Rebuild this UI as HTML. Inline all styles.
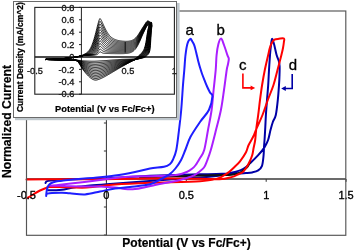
<!DOCTYPE html>
<html><head><meta charset="utf-8"><title>CV</title>
<style>
html,body{margin:0;padding:0;background:#fff;}
body{width:354px;height:250px;overflow:hidden;}
svg{display:block;font-family:"Liberation Sans",Arial,sans-serif;}
</style></head><body>
<svg width="354" height="250" viewBox="0 0 354 250">
<rect width="354" height="250" fill="#fff"/>
<line x1="26.5" y1="179.0" x2="346" y2="179.0" stroke="#3a3a3a" stroke-width="1.4"/>
<line x1="106.4" y1="11" x2="106.4" y2="235.3" stroke="#333" stroke-width="1"/>
<line x1="103.9" y1="235.0" x2="106.4" y2="235.0" stroke="#333" stroke-width="1"/>
<line x1="103.9" y1="207.0" x2="106.4" y2="207.0" stroke="#333" stroke-width="1"/>
<line x1="103.9" y1="179.0" x2="106.4" y2="179.0" stroke="#333" stroke-width="1"/>
<line x1="103.9" y1="151.0" x2="106.4" y2="151.0" stroke="#333" stroke-width="1"/>
<line x1="103.9" y1="123.0" x2="106.4" y2="123.0" stroke="#333" stroke-width="1"/>
<line x1="103.9" y1="95.0" x2="106.4" y2="95.0" stroke="#333" stroke-width="1"/>
<line x1="103.9" y1="67.0" x2="106.4" y2="67.0" stroke="#333" stroke-width="1"/>
<line x1="103.9" y1="39.0" x2="106.4" y2="39.0" stroke="#333" stroke-width="1"/>
<line x1="103.9" y1="11.0" x2="106.4" y2="11.0" stroke="#333" stroke-width="1"/>
<line x1="26.5" y1="179.0" x2="26.5" y2="181.8" stroke="#333" stroke-width="1"/>
<line x1="106.4" y1="179.0" x2="106.4" y2="181.8" stroke="#333" stroke-width="1"/>
<line x1="186.3" y1="179.0" x2="186.3" y2="181.8" stroke="#333" stroke-width="1"/>
<line x1="266.2" y1="179.0" x2="266.2" y2="181.8" stroke="#333" stroke-width="1"/>
<line x1="346.1" y1="179.0" x2="346.1" y2="181.8" stroke="#333" stroke-width="1"/>
<path d="M45.50,183.00 C45.68,182.72 45.75,181.73 46.60,181.30 C47.45,180.87 48.03,180.68 50.60,180.40 C53.17,180.12 57.93,179.80 62.00,179.60 C66.07,179.40 68.67,179.37 75.00,179.20 C81.33,179.03 91.67,178.92 100.00,178.60 C108.33,178.28 116.67,177.77 125.00,177.30 C133.33,176.83 137.50,176.32 150.00,175.80 C162.50,175.28 188.00,174.53 200.00,174.20 C212.00,173.87 216.33,173.92 222.00,173.80 C227.67,173.68 231.00,173.57 234.00,173.50 C237.00,173.43 238.00,173.47 240.00,173.40 C242.00,173.33 243.97,173.27 246.00,173.10 C248.03,172.93 250.17,172.85 252.20,172.40 C254.23,171.95 256.57,171.50 258.20,170.40 C259.83,169.30 261.10,168.33 262.00,165.80 C262.90,163.27 263.27,158.33 263.60,155.20 C263.93,152.07 263.83,149.70 264.00,147.00 C264.17,144.30 264.38,142.33 264.60,139.00 C264.82,135.67 265.08,131.00 265.30,127.00 C265.52,123.00 265.62,119.50 265.90,115.00 C266.18,110.50 266.62,105.00 267.00,100.00 C267.38,95.00 267.87,90.00 268.20,85.00 C268.53,80.00 268.70,75.00 269.00,70.00 C269.30,65.00 269.70,58.83 270.00,55.00 C270.30,51.17 270.47,49.68 270.80,47.00 C271.13,44.32 271.47,39.40 272.00,38.90 C272.53,38.40 273.23,41.32 274.00,44.00 C274.77,46.68 275.80,52.17 276.60,55.00 C277.40,57.83 278.30,59.17 278.80,61.00 C279.30,62.83 279.48,63.67 279.60,66.00 C279.72,68.33 279.60,71.83 279.50,75.00 C279.40,78.17 279.28,80.83 279.00,85.00 C278.72,89.17 278.33,95.00 277.80,100.00 C277.27,105.00 276.60,111.42 275.80,115.00 C275.00,118.58 273.88,119.00 273.00,121.50 C272.12,124.00 271.32,126.92 270.50,130.00 C269.68,133.08 269.13,137.07 268.10,140.00 C267.07,142.93 265.95,145.07 264.30,147.60 C262.65,150.13 260.48,152.67 258.20,155.20 C255.92,157.73 252.87,160.65 250.60,162.80 C248.33,164.95 246.37,166.83 244.60,168.10 C242.83,169.37 241.60,169.75 240.00,170.40 C238.40,171.05 237.00,171.48 235.00,172.00 C233.00,172.52 230.50,172.92 228.00,173.50 C225.50,174.08 224.67,174.83 220.00,175.50 C215.33,176.17 208.33,176.83 200.00,177.50 C191.67,178.17 180.00,178.78 170.00,179.50 C160.00,180.22 150.00,181.05 140.00,181.80 C130.00,182.55 118.33,183.37 110.00,184.00 C101.67,184.63 95.83,185.05 90.00,185.60 C84.17,186.15 79.67,186.60 75.00,187.30 C70.33,188.00 65.33,189.30 62.00,189.80 C58.67,190.30 57.33,190.23 55.00,190.30 C52.67,190.37 49.17,190.22 48.00,190.20" fill="none" stroke="#0000a6" stroke-width="2" stroke-linejoin="round" stroke-linecap="round"/>
<path d="M140.00,177.20 C145.00,177.08 160.00,176.77 170.00,176.50 C180.00,176.23 191.33,175.83 200.00,175.60 C208.67,175.37 216.50,175.30 222.00,175.10 C227.50,174.90 230.00,174.82 233.00,174.40 C236.00,173.98 238.17,173.37 240.00,172.60 C241.83,171.83 242.73,170.80 244.00,169.80 C245.27,168.80 246.60,167.90 247.60,166.60 C248.60,165.30 249.60,162.77 250.00,162.00" fill="none" stroke="#111" stroke-width="2" stroke-linejoin="round" stroke-linecap="round"/>
<path d="M26.50,179.40 C32.08,179.37 47.75,179.22 60.00,179.20 C72.25,179.18 85.00,179.40 100.00,179.30 C115.00,179.20 133.33,178.68 150.00,178.60 C166.67,178.52 189.17,178.70 200.00,178.80 C210.83,178.90 211.33,179.17 215.00,179.20 C218.67,179.23 219.83,179.20 222.00,179.00 C224.17,178.80 226.00,178.43 228.00,178.00 C230.00,177.57 232.17,177.07 234.00,176.40 C235.83,175.73 237.50,174.73 239.00,174.00 C240.50,173.27 241.83,172.98 243.00,172.00 C244.17,171.02 244.98,169.63 246.00,168.10 C247.02,166.57 248.07,164.95 249.10,162.80 C250.13,160.65 251.45,157.67 252.20,155.20 C252.95,152.73 253.10,150.53 253.60,148.00 C254.10,145.47 254.77,143.10 255.20,140.00 C255.63,136.90 255.70,133.57 256.20,129.40 C256.70,125.23 257.57,119.90 258.20,115.00 C258.83,110.10 259.35,105.00 260.00,100.00 C260.65,95.00 261.30,90.00 262.10,85.00 C262.90,80.00 263.78,75.00 264.80,70.00 C265.82,65.00 267.37,58.67 268.20,55.00 C269.03,51.33 269.20,50.00 269.80,48.00 C270.40,46.00 271.02,44.38 271.80,43.00 C272.58,41.62 273.30,40.40 274.50,39.70 C275.70,39.00 277.42,39.00 279.00,38.80 C280.58,38.60 283.18,37.97 284.00,38.50 C284.82,39.03 284.07,40.42 283.90,42.00 C283.73,43.58 283.42,45.83 283.00,48.00 C282.58,50.17 282.32,51.33 281.40,55.00 C280.48,58.67 278.82,65.00 277.50,70.00 C276.18,75.00 275.12,80.00 273.50,85.00 C271.88,90.00 269.63,95.00 267.80,100.00 C265.97,105.00 264.43,110.10 262.50,115.00 C260.57,119.90 257.70,125.90 256.20,129.40 C254.70,132.90 254.30,134.23 253.50,136.00 C252.70,137.77 252.25,138.42 251.40,140.00 C250.55,141.58 249.30,143.47 248.40,145.50 C247.50,147.53 247.40,149.57 246.00,152.20 C244.60,154.83 242.00,158.75 240.00,161.30 C238.00,163.85 235.83,165.72 234.00,167.50 C232.17,169.28 230.60,170.72 229.00,172.00 C227.40,173.28 226.40,174.10 224.40,175.20 C222.40,176.30 221.07,177.58 217.00,178.60 C212.93,179.62 211.17,180.60 200.00,181.30 C188.83,182.00 164.17,182.25 150.00,182.80 C135.83,183.35 125.57,183.80 115.00,184.60 C104.43,185.40 95.77,187.20 86.60,187.60 C77.43,188.00 66.30,187.10 60.00,187.00 C53.70,186.90 51.25,186.78 48.80,187.00 C46.35,187.22 46.77,187.72 45.30,188.30 C43.83,188.88 42.05,189.47 40.00,190.50 C37.95,191.53 35.25,193.17 33.00,194.50 C30.75,195.83 27.58,197.83 26.50,198.50" fill="none" stroke="#ff0000" stroke-width="2" stroke-linejoin="round" stroke-linecap="round"/>
<path d="M50.40,185.80 C52.00,185.63 55.07,185.35 60.00,184.80 C64.93,184.25 73.33,183.30 80.00,182.50 C86.67,181.70 92.50,180.92 100.00,180.00 C107.50,179.08 116.67,177.63 125.00,177.00 C133.33,176.37 143.33,176.40 150.00,176.20 C156.67,176.00 160.33,176.03 165.00,175.80 C169.67,175.57 174.38,175.43 178.00,174.80 C181.62,174.17 184.37,173.00 186.70,172.00 C189.03,171.00 190.50,169.97 192.00,168.80 C193.50,167.63 194.37,166.80 195.70,165.00 C197.03,163.20 198.58,160.50 200.00,158.00 C201.42,155.50 202.87,154.67 204.20,150.00 C205.53,145.33 206.77,136.67 208.00,130.00 C209.23,123.33 210.67,116.67 211.60,110.00 C212.53,103.33 212.92,96.67 213.60,90.00 C214.28,83.33 215.20,75.83 215.70,70.00 C216.20,64.17 216.15,59.33 216.60,55.00 C217.05,50.67 217.65,46.73 218.40,44.00 C219.15,41.27 220.17,38.43 221.10,38.60 C222.03,38.77 222.93,42.20 224.00,45.00 C225.07,47.80 226.70,53.07 227.50,55.40 C228.30,57.73 228.75,57.40 228.80,59.00 C228.85,60.60 228.15,63.17 227.80,65.00 C227.45,66.83 227.33,65.83 226.70,70.00 C226.07,74.17 224.97,83.33 224.00,90.00 C223.03,96.67 222.23,103.33 220.90,110.00 C219.57,116.67 217.68,123.33 216.00,130.00 C214.32,136.67 212.30,144.83 210.80,150.00 C209.30,155.17 208.13,158.08 207.00,161.00 C205.87,163.92 205.33,165.67 204.00,167.50 C202.67,169.33 200.67,170.68 199.00,172.00 C197.33,173.32 196.17,174.35 194.00,175.40 C191.83,176.45 189.00,177.37 186.00,178.30 C183.00,179.23 179.50,180.22 176.00,181.00 C172.50,181.78 168.50,182.33 165.00,183.00 C161.50,183.67 158.33,184.30 155.00,185.00 C151.67,185.70 148.33,186.53 145.00,187.20 C141.67,187.87 138.33,188.70 135.00,189.00 C131.67,189.30 128.33,189.23 125.00,189.00 C121.67,188.77 119.17,188.00 115.00,187.60 C110.83,187.20 105.00,186.78 100.00,186.60 C95.00,186.42 90.00,186.57 85.00,186.50 C80.00,186.43 74.17,186.32 70.00,186.20 C65.83,186.08 63.27,185.87 60.00,185.80 C56.73,185.73 52.00,185.80 50.40,185.80" fill="none" stroke="#aa1eff" stroke-width="2" stroke-linejoin="round" stroke-linecap="round"/>
<path d="M46.20,196.00 C46.23,195.53 46.27,194.33 46.40,193.20 C46.53,192.07 46.67,190.45 47.00,189.20 C47.33,187.95 47.67,186.73 48.40,185.70 C49.13,184.67 50.13,183.70 51.40,183.00 C52.67,182.30 54.23,181.87 56.00,181.50 C57.77,181.13 58.83,181.18 62.00,180.80 C65.17,180.42 69.50,179.72 75.00,179.20 C80.50,178.68 88.33,178.30 95.00,177.70 C101.67,177.10 108.33,176.55 115.00,175.60 C121.67,174.65 129.17,173.18 135.00,172.00 C140.83,170.82 145.17,169.37 150.00,168.50 C154.83,167.63 160.70,167.52 164.00,166.80 C167.30,166.08 168.33,165.33 169.80,164.20 C171.27,163.07 171.72,162.37 172.80,160.00 C173.88,157.63 175.27,155.00 176.30,150.00 C177.33,145.00 178.18,136.67 179.00,130.00 C179.82,123.33 180.53,117.50 181.20,110.00 C181.87,102.50 182.48,91.67 183.00,85.00 C183.52,78.33 183.88,75.00 184.30,70.00 C184.72,65.00 184.97,59.42 185.50,55.00 C186.03,50.58 186.68,46.20 187.50,43.50 C188.32,40.80 189.60,39.13 190.40,38.80 C191.20,38.47 191.65,40.40 192.30,41.50 C192.95,42.60 193.65,43.57 194.30,45.40 C194.95,47.23 195.55,49.90 196.20,52.50 C196.85,55.10 197.55,58.45 198.20,61.00 C198.85,63.55 199.45,65.63 200.10,67.80 C200.75,69.97 201.33,71.85 202.10,74.00 C202.87,76.15 203.83,78.53 204.70,80.70 C205.57,82.87 206.42,85.03 207.30,87.00 C208.18,88.97 209.15,90.92 210.00,92.50 C210.85,94.08 212.58,93.58 212.40,96.50 C212.22,99.42 210.97,105.75 208.90,110.00 C206.83,114.25 203.08,117.50 200.00,122.00 C196.92,126.50 192.85,132.33 190.40,137.00 C187.95,141.67 186.85,146.17 185.30,150.00 C183.75,153.83 182.75,156.92 181.10,160.00 C179.45,163.08 177.28,166.15 175.40,168.50 C173.52,170.85 172.15,172.35 169.80,174.10 C167.45,175.85 164.60,177.30 161.30,179.00 C158.00,180.70 155.22,182.97 150.00,184.30 C144.78,185.63 135.83,186.30 130.00,187.00 C124.17,187.70 120.00,187.75 115.00,188.50 C110.00,189.25 105.00,190.52 100.00,191.50 C95.00,192.48 90.00,194.10 85.00,194.40 C80.00,194.70 73.83,193.58 70.00,193.30 C66.17,193.02 65.00,192.75 62.00,192.70 C59.00,192.65 54.42,192.85 52.00,193.00 C49.58,193.15 48.43,193.35 47.50,193.60 C46.57,193.85 46.58,194.35 46.40,194.50" fill="none" stroke="#1e1eff" stroke-width="2" stroke-linejoin="round" stroke-linecap="round"/>
<text x="26.5" y="198.6" font-size="11" text-anchor="middle" fill="#000" stroke="#000" stroke-width="0.35">-0.5</text>
<text x="106.4" y="198.6" font-size="11" text-anchor="middle" fill="#000" stroke="#000" stroke-width="0.35">0</text>
<text x="186.3" y="198.6" font-size="11" text-anchor="middle" fill="#000" stroke="#000" stroke-width="0.35">0.5</text>
<text x="266.2" y="198.6" font-size="11" text-anchor="middle" fill="#000" stroke="#000" stroke-width="0.35">1</text>
<text x="346.1" y="198.6" font-size="11" text-anchor="middle" fill="#000" stroke="#000" stroke-width="0.35">1.5</text>
<rect x="26.5" y="11" width="319.3" height="224.3" fill="none" stroke="#555" stroke-width="1.15"/>
<path d="M242.9,73.5 V87.9 H251.5" fill="none" stroke="#ff0000" stroke-width="1.6"/>
<path d="M250.6,85.6 L255.2,87.9 L250.6,90.2 Z" fill="#ff0000"/>
<path d="M292.2,74 V88.5 H285" fill="none" stroke="#0000a6" stroke-width="1.6"/>
<path d="M285.8,86 L281.2,88.5 L285.8,91 Z" fill="#0000a6"/>
<text x="189.6" y="35" font-size="15" text-anchor="middle" fill="#000" stroke="#000" stroke-width="0.3">a</text>
<text x="220.6" y="35" font-size="15" text-anchor="middle" fill="#000" stroke="#000" stroke-width="0.3">b</text>
<text x="242.7" y="69.6" font-size="15" text-anchor="middle" fill="#000" stroke="#000" stroke-width="0.3">c</text>
<text x="292.8" y="70.3" font-size="15" text-anchor="middle" fill="#000" stroke="#000" stroke-width="0.3">d</text>
<text x="186.5" y="246.9" font-size="12" font-weight="bold" text-anchor="middle" fill="#000" stroke="#000" stroke-width="0.2">Potential (V vs Fc/Fc+)</text>
<text transform="translate(10.6,121.5) rotate(-90)" x="0" y="0" font-size="12.2" font-weight="bold" text-anchor="middle" fill="#000" stroke="#000" stroke-width="0.2">Normalized Current</text>
<rect x="15" y="3" width="164.6" height="117.2" fill="#bfc7cc"/>
<rect x="13.5" y="1.5" width="163" height="116" fill="#fff" stroke="#6a6a6a" stroke-width="1"/>
<rect x="34.8" y="7.4" width="139.6" height="86.8" fill="#fff"/>
<clipPath id="ic"><rect x="34.8" y="7.4" width="139.6" height="86.8"/></clipPath>
<line x1="34.8" y1="57.0" x2="174.4" y2="57.0" stroke="#111" stroke-width="1.3"/>
<line x1="81.4" y1="7.4" x2="81.4" y2="94.2" stroke="#222" stroke-width="1"/>
<line x1="79" y1="94.2" x2="81.4" y2="94.2" stroke="#222" stroke-width="1"/>
<line x1="79" y1="81.8" x2="81.4" y2="81.8" stroke="#222" stroke-width="1"/>
<line x1="79" y1="69.4" x2="81.4" y2="69.4" stroke="#222" stroke-width="1"/>
<line x1="79" y1="57.0" x2="81.4" y2="57.0" stroke="#222" stroke-width="1"/>
<line x1="79" y1="44.6" x2="81.4" y2="44.6" stroke="#222" stroke-width="1"/>
<line x1="79" y1="32.2" x2="81.4" y2="32.2" stroke="#222" stroke-width="1"/>
<line x1="79" y1="19.8" x2="81.4" y2="19.8" stroke="#222" stroke-width="1"/>
<line x1="79" y1="7.4" x2="81.4" y2="7.4" stroke="#222" stroke-width="1"/>
<g clip-path="url(#ic)" fill="none" stroke="#000">
<g stroke-width="0.85">
<path d="M45.80,59.30 L46.30,59.30 L46.80,59.30 L47.30,59.30 L47.80,59.29 L48.30,59.29 L48.80,59.29 L49.30,59.28 L49.80,59.27 L50.30,59.26 L50.80,59.26 L51.30,59.25 L51.80,59.23 L52.30,59.22 L52.80,59.21 L53.30,59.19 L53.80,59.18 L54.30,59.16 L54.80,59.14 L55.30,59.12 L55.80,59.10 L56.30,59.07 L56.80,59.05 L57.30,59.02 L57.80,59.00 L58.30,58.97 L58.80,58.94 L59.30,58.91 L59.80,58.87 L60.30,58.84 L60.80,58.80 L61.30,58.77 L61.80,58.73 L62.30,58.69 L62.80,58.65 L63.30,58.60 L63.80,58.56 L64.30,58.51 L64.80,58.47 L65.30,58.42 L65.80,58.37 L66.30,58.32 L66.80,58.26 L67.30,58.21 L67.80,58.15 L68.30,58.09 L68.80,58.03 L69.30,57.97 L69.80,57.91 L70.30,57.84 L70.80,57.78 L71.30,57.71 L71.80,57.64 L72.30,57.57 L72.80,57.49 L73.30,57.42 L73.80,57.34 L74.30,57.27 L74.80,57.19 L75.30,57.11 L75.80,57.02 L76.30,56.94 L76.80,56.85 L77.30,56.77 L77.80,56.68 L78.30,56.59 L78.80,56.49 L79.30,56.40 L79.80,56.30 L80.30,56.20 L80.80,56.10 L81.30,56.00 L81.80,55.90 L82.30,55.80 L82.80,55.69 L83.30,55.58 L83.80,55.47 L84.30,55.36 L84.80,55.25 L85.30,55.20 L85.80,55.19 L86.30,55.19 L86.80,55.18 L87.30,55.18 L87.80,55.17 L88.30,55.17 L88.80,55.16 L89.30,55.16 L89.80,55.15 L90.30,55.15 L90.80,55.14 L91.30,55.14 L91.80,55.13 L92.30,55.12 L92.80,55.12 L93.30,55.11 L93.80,55.10 L94.30,55.08 L94.80,55.05 L95.30,55.00 L95.80,54.92 L96.30,54.80 L96.80,54.62 L97.30,54.36 L97.80,53.99 L98.30,53.52 L98.80,52.96 L99.30,52.36 L99.80,51.85 L100.30,51.84 L100.80,52.10 L101.30,52.39 L101.80,52.66 L102.30,52.88 L102.80,53.05 L103.30,53.18 L103.80,53.27 L104.30,53.34 L104.80,53.38 L105.30,53.42 L105.80,53.45 L106.30,53.47 L106.80,53.49 L107.30,53.50 L107.80,53.52 L108.30,53.53 L108.80,53.54 L109.30,53.55 L109.80,53.57 L110.30,53.58 L110.80,53.59 L111.30,53.60 L111.80,53.61 L112.30,53.62 L112.80,53.62 L113.30,53.63 L113.80,53.64 L114.30,53.65 L114.80,53.65 L115.30,53.66 L115.80,53.67 L116.30,53.67 L116.80,53.68 L117.30,53.68 L117.80,53.68 L118.30,53.68 L118.80,53.69 L119.30,53.69 L119.80,53.68 L120.30,53.68 L120.80,53.68 L121.30,53.67 L121.80,53.67 L122.30,53.66 L122.80,53.64 L123.30,53.63 L123.80,53.61 L124.30,53.59 L124.80,53.56 L125.30,53.53 L125.80,53.49 L126.30,53.44 L126.80,53.39 L127.30,53.33 L127.80,53.25 L128.30,53.17 L128.80,53.07 L129.30,52.95 L129.80,52.82 L130.30,52.66 L130.80,52.49 L131.30,52.28 L131.80,52.04 L132.30,51.77 L132.80,51.46 L133.30,51.11 L133.80,50.71 L134.30,50.26 L134.80,49.76 L135.30,49.19 L135.80,48.56 L136.30,47.87 L136.80,47.10 L137.30,46.27 L137.80,45.37 L138.30,44.41 L138.80,43.39 L139.30,42.32 L139.80,41.21 L140.30,40.06 L140.80,38.90 L141.30,37.73 L141.80,36.57 L142.30,35.43 L142.80,34.31 L143.30,33.22 L143.80,32.15 L144.30,31.10 L144.80,30.05 L145.30,29.01 L145.80,28.00 L146.30,27.08 L146.80,26.30 L147.30,25.72 L147.80,25.38 L148.30,25.27 L148.80,25.32 L149.30,25.47 L149.80,25.65 L150.30,25.78 L150.80,25.85 L151.30,25.86 L151.80,25.81 L151.90,25.80"/>
<path d="M45.80,59.30 L46.30,59.30 L46.80,59.30 L47.30,59.30 L47.80,59.29 L48.30,59.29 L48.80,59.29 L49.30,59.28 L49.80,59.27 L50.30,59.26 L50.80,59.26 L51.30,59.25 L51.80,59.23 L52.30,59.22 L52.80,59.21 L53.30,59.19 L53.80,59.18 L54.30,59.16 L54.80,59.14 L55.30,59.12 L55.80,59.10 L56.30,59.07 L56.80,59.05 L57.30,59.02 L57.80,59.00 L58.30,58.97 L58.80,58.94 L59.30,58.91 L59.80,58.87 L60.30,58.84 L60.80,58.80 L61.30,58.77 L61.80,58.73 L62.30,58.69 L62.80,58.65 L63.30,58.60 L63.80,58.56 L64.30,58.51 L64.80,58.47 L65.30,58.42 L65.80,58.37 L66.30,58.32 L66.80,58.26 L67.30,58.21 L67.80,58.15 L68.30,58.09 L68.80,58.03 L69.30,57.97 L69.80,57.91 L70.30,57.84 L70.80,57.78 L71.30,57.71 L71.80,57.64 L72.30,57.57 L72.80,57.49 L73.30,57.42 L73.80,57.34 L74.30,57.27 L74.80,57.19 L75.30,57.11 L75.80,57.02 L76.30,56.94 L76.80,56.85 L77.30,56.77 L77.80,56.68 L78.30,56.59 L78.80,56.49 L79.30,56.40 L79.80,56.30 L80.30,56.20 L80.80,56.10 L81.30,56.00 L81.80,55.90 L82.30,55.80 L82.80,55.69 L83.30,55.58 L83.80,55.47 L84.30,55.36 L84.80,55.25 L85.30,55.20 L85.80,55.19 L86.30,55.19 L86.80,55.18 L87.30,55.18 L87.80,55.17 L88.30,55.17 L88.80,55.16 L89.30,55.15 L89.80,55.15 L90.30,55.14 L90.80,55.13 L91.30,55.11 L91.80,55.09 L92.30,55.07 L92.80,55.03 L93.30,54.98 L93.80,54.90 L94.30,54.79 L94.80,54.64 L95.30,54.43 L95.80,54.15 L96.30,53.79 L96.80,53.33 L97.30,52.76 L97.80,52.08 L98.30,51.31 L98.80,50.49 L99.30,49.71 L99.80,49.09 L100.30,49.09 L100.80,49.42 L101.30,49.82 L101.80,50.22 L102.30,50.60 L102.80,50.93 L103.30,51.21 L103.80,51.45 L104.30,51.64 L104.80,51.79 L105.30,51.91 L105.80,52.01 L106.30,52.09 L106.80,52.15 L107.30,52.20 L107.80,52.24 L108.30,52.28 L108.80,52.31 L109.30,52.33 L109.80,52.36 L110.30,52.38 L110.80,52.40 L111.30,52.42 L111.80,52.44 L112.30,52.45 L112.80,52.47 L113.30,52.49 L113.80,52.50 L114.30,52.52 L114.80,52.53 L115.30,52.54 L115.80,52.56 L116.30,52.57 L116.80,52.58 L117.30,52.59 L117.80,52.60 L118.30,52.60 L118.80,52.61 L119.30,52.62 L119.80,52.62 L120.30,52.62 L120.80,52.62 L121.30,52.62 L121.80,52.62 L122.30,52.61 L122.80,52.61 L123.30,52.59 L123.80,52.58 L124.30,52.56 L124.80,52.54 L125.30,52.51 L125.80,52.47 L126.30,52.43 L126.80,52.38 L127.30,52.32 L127.80,52.25 L128.30,52.17 L128.80,52.07 L129.30,51.96 L129.80,51.83 L130.30,51.68 L130.80,51.50 L131.30,51.30 L131.80,51.07 L132.30,50.80 L132.80,50.50 L133.30,50.15 L133.80,49.76 L134.30,49.32 L134.80,48.82 L135.30,48.26 L135.80,47.64 L136.30,46.96 L136.80,46.21 L137.30,45.39 L137.80,44.51 L138.30,43.57 L138.80,42.57 L139.30,41.52 L139.80,40.44 L140.30,39.32 L140.80,38.19 L141.30,37.05 L141.80,35.92 L142.30,34.80 L142.80,33.71 L143.30,32.65 L143.80,31.62 L144.30,30.59 L144.80,29.57 L145.30,28.55 L145.80,27.56 L146.30,26.65 L146.80,25.89 L147.30,25.33 L147.80,25.01 L148.30,24.91 L148.80,24.98 L149.30,25.14 L149.80,25.33 L150.30,25.48 L150.80,25.56 L151.30,25.57 L151.80,25.53 L151.90,25.52"/>
<path d="M45.80,59.30 L46.30,59.30 L46.80,59.30 L47.30,59.30 L47.80,59.29 L48.30,59.29 L48.80,59.29 L49.30,59.28 L49.80,59.27 L50.30,59.26 L50.80,59.26 L51.30,59.25 L51.80,59.23 L52.30,59.22 L52.80,59.21 L53.30,59.19 L53.80,59.18 L54.30,59.16 L54.80,59.14 L55.30,59.12 L55.80,59.10 L56.30,59.07 L56.80,59.05 L57.30,59.02 L57.80,59.00 L58.30,58.97 L58.80,58.94 L59.30,58.91 L59.80,58.87 L60.30,58.84 L60.80,58.80 L61.30,58.77 L61.80,58.73 L62.30,58.69 L62.80,58.65 L63.30,58.60 L63.80,58.56 L64.30,58.51 L64.80,58.47 L65.30,58.42 L65.80,58.37 L66.30,58.32 L66.80,58.26 L67.30,58.21 L67.80,58.15 L68.30,58.09 L68.80,58.03 L69.30,57.97 L69.80,57.91 L70.30,57.84 L70.80,57.78 L71.30,57.71 L71.80,57.64 L72.30,57.57 L72.80,57.49 L73.30,57.42 L73.80,57.34 L74.30,57.27 L74.80,57.19 L75.30,57.11 L75.80,57.02 L76.30,56.94 L76.80,56.85 L77.30,56.77 L77.80,56.68 L78.30,56.59 L78.80,56.49 L79.30,56.40 L79.80,56.30 L80.30,56.20 L80.80,56.10 L81.30,56.00 L81.80,55.90 L82.30,55.80 L82.80,55.69 L83.30,55.58 L83.80,55.47 L84.30,55.36 L84.80,55.25 L85.30,55.20 L85.80,55.19 L86.30,55.18 L86.80,55.18 L87.30,55.17 L87.80,55.16 L88.30,55.15 L88.80,55.14 L89.30,55.13 L89.80,55.11 L90.30,55.08 L90.80,55.05 L91.30,55.00 L91.80,54.94 L92.30,54.86 L92.80,54.75 L93.30,54.60 L93.80,54.40 L94.30,54.15 L94.80,53.83 L95.30,53.43 L95.80,52.93 L96.30,52.32 L96.80,51.61 L97.30,50.79 L97.80,49.88 L98.30,48.91 L98.80,47.92 L99.30,47.02 L99.80,46.33 L100.30,46.34 L100.80,46.72 L101.30,47.20 L101.80,47.69 L102.30,48.18 L102.80,48.64 L103.30,49.05 L103.80,49.41 L104.30,49.73 L104.80,49.99 L105.30,50.22 L105.80,50.41 L106.30,50.57 L106.80,50.69 L107.30,50.80 L107.80,50.89 L108.30,50.96 L108.80,51.02 L109.30,51.08 L109.80,51.12 L110.30,51.16 L110.80,51.20 L111.30,51.23 L111.80,51.26 L112.30,51.29 L112.80,51.32 L113.30,51.34 L113.80,51.36 L114.30,51.39 L114.80,51.41 L115.30,51.43 L115.80,51.45 L116.30,51.46 L116.80,51.48 L117.30,51.50 L117.80,51.51 L118.30,51.53 L118.80,51.54 L119.30,51.55 L119.80,51.56 L120.30,51.56 L120.80,51.57 L121.30,51.57 L121.80,51.57 L122.30,51.57 L122.80,51.57 L123.30,51.56 L123.80,51.55 L124.30,51.54 L124.80,51.52 L125.30,51.49 L125.80,51.46 L126.30,51.42 L126.80,51.37 L127.30,51.32 L127.80,51.25 L128.30,51.17 L128.80,51.08 L129.30,50.97 L129.80,50.84 L130.30,50.70 L130.80,50.52 L131.30,50.33 L131.80,50.10 L132.30,49.84 L132.80,49.54 L133.30,49.20 L133.80,48.81 L134.30,48.38 L134.80,47.89 L135.30,47.34 L135.80,46.73 L136.30,46.06 L136.80,45.32 L137.30,44.52 L137.80,43.66 L138.30,42.73 L138.80,41.76 L139.30,40.73 L139.80,39.67 L140.30,38.58 L140.80,37.47 L141.30,36.36 L141.80,35.26 L142.30,34.18 L142.80,33.12 L143.30,32.09 L143.80,31.08 L144.30,30.08 L144.80,29.08 L145.30,28.09 L145.80,27.12 L146.30,26.23 L146.80,25.48 L147.30,24.94 L147.80,24.64 L148.30,24.55 L148.80,24.64 L149.30,24.82 L149.80,25.02 L150.30,25.18 L150.80,25.26 L151.30,25.28 L151.80,25.25 L151.90,25.24"/>
<path d="M45.80,59.30 L46.30,59.30 L46.80,59.30 L47.30,59.30 L47.80,59.29 L48.30,59.29 L48.80,59.29 L49.30,59.28 L49.80,59.27 L50.30,59.26 L50.80,59.26 L51.30,59.25 L51.80,59.23 L52.30,59.22 L52.80,59.21 L53.30,59.19 L53.80,59.18 L54.30,59.16 L54.80,59.14 L55.30,59.12 L55.80,59.10 L56.30,59.07 L56.80,59.05 L57.30,59.02 L57.80,59.00 L58.30,58.97 L58.80,58.94 L59.30,58.91 L59.80,58.87 L60.30,58.84 L60.80,58.80 L61.30,58.77 L61.80,58.73 L62.30,58.69 L62.80,58.65 L63.30,58.60 L63.80,58.56 L64.30,58.51 L64.80,58.47 L65.30,58.42 L65.80,58.37 L66.30,58.32 L66.80,58.26 L67.30,58.21 L67.80,58.15 L68.30,58.09 L68.80,58.03 L69.30,57.97 L69.80,57.91 L70.30,57.84 L70.80,57.78 L71.30,57.71 L71.80,57.64 L72.30,57.57 L72.80,57.49 L73.30,57.42 L73.80,57.34 L74.30,57.27 L74.80,57.19 L75.30,57.11 L75.80,57.02 L76.30,56.94 L76.80,56.85 L77.30,56.77 L77.80,56.68 L78.30,56.59 L78.80,56.49 L79.30,56.40 L79.80,56.30 L80.30,56.20 L80.80,56.10 L81.30,56.00 L81.80,55.90 L82.30,55.80 L82.80,55.69 L83.30,55.58 L83.80,55.47 L84.30,55.36 L84.80,55.24 L85.30,55.19 L85.80,55.18 L86.30,55.17 L86.80,55.16 L87.30,55.15 L87.80,55.13 L88.30,55.11 L88.80,55.08 L89.30,55.05 L89.80,55.00 L90.30,54.94 L90.80,54.86 L91.30,54.76 L91.80,54.62 L92.30,54.45 L92.80,54.24 L93.30,53.96 L93.80,53.63 L94.30,53.21 L94.80,52.71 L95.30,52.11 L95.80,51.40 L96.30,50.59 L96.80,49.66 L97.30,48.64 L97.80,47.55 L98.30,46.42 L98.80,45.31 L99.30,44.30 L99.80,43.56 L100.30,43.58 L100.80,44.01 L101.30,44.55 L101.80,45.12 L102.30,45.70 L102.80,46.25 L103.30,46.77 L103.80,47.25 L104.30,47.67 L104.80,48.05 L105.30,48.38 L105.80,48.66 L106.30,48.91 L106.80,49.12 L107.30,49.29 L107.80,49.44 L108.30,49.57 L108.80,49.67 L109.30,49.76 L109.80,49.84 L110.30,49.91 L110.80,49.97 L111.30,50.02 L111.80,50.07 L112.30,50.11 L112.80,50.15 L113.30,50.19 L113.80,50.22 L114.30,50.25 L114.80,50.28 L115.30,50.31 L115.80,50.34 L116.30,50.36 L116.80,50.38 L117.30,50.41 L117.80,50.43 L118.30,50.45 L118.80,50.46 L119.30,50.48 L119.80,50.49 L120.30,50.50 L120.80,50.52 L121.30,50.52 L121.80,50.53 L122.30,50.53 L122.80,50.53 L123.30,50.53 L123.80,50.52 L124.30,50.51 L124.80,50.49 L125.30,50.47 L125.80,50.44 L126.30,50.41 L126.80,50.37 L127.30,50.31 L127.80,50.25 L128.30,50.17 L128.80,50.08 L129.30,49.98 L129.80,49.86 L130.30,49.71 L130.80,49.54 L131.30,49.35 L131.80,49.13 L132.30,48.87 L132.80,48.58 L133.30,48.24 L133.80,47.86 L134.30,47.43 L134.80,46.95 L135.30,46.41 L135.80,45.82 L136.30,45.16 L136.80,44.44 L137.30,43.65 L137.80,42.80 L138.30,41.90 L138.80,40.95 L139.30,39.94 L139.80,38.91 L140.30,37.84 L140.80,36.77 L141.30,35.69 L141.80,34.62 L142.30,33.56 L142.80,32.54 L143.30,31.53 L143.80,30.55 L144.30,29.58 L144.80,28.60 L145.30,27.63 L145.80,26.68 L146.30,25.80 L146.80,25.08 L147.30,24.55 L147.80,24.26 L148.30,24.19 L148.80,24.29 L149.30,24.49 L149.80,24.70 L150.30,24.87 L150.80,24.97 L151.30,25.00 L151.80,24.97 L151.90,24.96"/>
<path d="M45.80,59.30 L46.30,59.30 L46.80,59.30 L47.30,59.30 L47.80,59.29 L48.30,59.29 L48.80,59.29 L49.30,59.28 L49.80,59.27 L50.30,59.26 L50.80,59.26 L51.30,59.25 L51.80,59.23 L52.30,59.22 L52.80,59.21 L53.30,59.19 L53.80,59.18 L54.30,59.16 L54.80,59.14 L55.30,59.12 L55.80,59.10 L56.30,59.07 L56.80,59.05 L57.30,59.02 L57.80,59.00 L58.30,58.97 L58.80,58.94 L59.30,58.91 L59.80,58.87 L60.30,58.84 L60.80,58.80 L61.30,58.77 L61.80,58.73 L62.30,58.69 L62.80,58.65 L63.30,58.60 L63.80,58.56 L64.30,58.51 L64.80,58.47 L65.30,58.42 L65.80,58.37 L66.30,58.32 L66.80,58.26 L67.30,58.21 L67.80,58.15 L68.30,58.09 L68.80,58.03 L69.30,57.97 L69.80,57.91 L70.30,57.84 L70.80,57.78 L71.30,57.71 L71.80,57.64 L72.30,57.57 L72.80,57.49 L73.30,57.42 L73.80,57.34 L74.30,57.27 L74.80,57.19 L75.30,57.11 L75.80,57.02 L76.30,56.94 L76.80,56.85 L77.30,56.77 L77.80,56.68 L78.30,56.59 L78.80,56.49 L79.30,56.40 L79.80,56.30 L80.30,56.20 L80.80,56.10 L81.30,56.00 L81.80,55.90 L82.30,55.79 L82.80,55.68 L83.30,55.57 L83.80,55.46 L84.30,55.35 L84.80,55.23 L85.30,55.17 L85.80,55.16 L86.30,55.14 L86.80,55.12 L87.30,55.09 L87.80,55.06 L88.30,55.01 L88.80,54.96 L89.30,54.89 L89.80,54.80 L90.30,54.68 L90.80,54.54 L91.30,54.35 L91.80,54.13 L92.30,53.85 L92.80,53.52 L93.30,53.11 L93.80,52.62 L94.30,52.03 L94.80,51.35 L95.30,50.57 L95.80,49.67 L96.30,48.67 L96.80,47.56 L97.30,46.37 L97.80,45.13 L98.30,43.87 L98.80,42.66 L99.30,41.58 L99.80,40.80 L100.30,40.82 L100.80,41.30 L101.30,41.88 L101.80,42.52 L102.30,43.17 L102.80,43.81 L103.30,44.43 L103.80,45.00 L104.30,45.52 L104.80,46.00 L105.30,46.43 L105.80,46.81 L106.30,47.14 L106.80,47.43 L107.30,47.68 L107.80,47.90 L108.30,48.09 L108.80,48.25 L109.30,48.39 L109.80,48.51 L110.30,48.61 L110.80,48.70 L111.30,48.78 L111.80,48.85 L112.30,48.91 L112.80,48.97 L113.30,49.02 L113.80,49.07 L114.30,49.11 L114.80,49.15 L115.30,49.19 L115.80,49.22 L116.30,49.25 L116.80,49.28 L117.30,49.31 L117.80,49.34 L118.30,49.36 L118.80,49.39 L119.30,49.41 L119.80,49.43 L120.30,49.45 L120.80,49.46 L121.30,49.47 L121.80,49.48 L122.30,49.49 L122.80,49.49 L123.30,49.50 L123.80,49.49 L124.30,49.48 L124.80,49.47 L125.30,49.45 L125.80,49.43 L126.30,49.40 L126.80,49.36 L127.30,49.31 L127.80,49.25 L128.30,49.18 L128.80,49.09 L129.30,48.99 L129.80,48.87 L130.30,48.73 L130.80,48.57 L131.30,48.38 L131.80,48.16 L132.30,47.91 L132.80,47.62 L133.30,47.29 L133.80,46.92 L134.30,46.50 L134.80,46.02 L135.30,45.49 L135.80,44.91 L136.30,44.26 L136.80,43.55 L137.30,42.78 L137.80,41.96 L138.30,41.07 L138.80,40.14 L139.30,39.16 L139.80,38.15 L140.30,37.11 L140.80,36.07 L141.30,35.02 L141.80,33.97 L142.30,32.95 L142.80,31.95 L143.30,30.98 L143.80,30.03 L144.30,29.08 L144.80,28.13 L145.30,27.17 L145.80,26.24 L146.30,25.38 L146.80,24.67 L147.30,24.16 L147.80,23.89 L148.30,23.84 L148.80,23.95 L149.30,24.16 L149.80,24.39 L150.30,24.57 L150.80,24.68 L151.30,24.71 L151.80,24.69 L151.90,24.68"/>
<path d="M45.80,59.30 L46.30,59.30 L46.80,59.30 L47.30,59.30 L47.80,59.29 L48.30,59.29 L48.80,59.29 L49.30,59.28 L49.80,59.27 L50.30,59.26 L50.80,59.26 L51.30,59.25 L51.80,59.23 L52.30,59.22 L52.80,59.21 L53.30,59.19 L53.80,59.18 L54.30,59.16 L54.80,59.14 L55.30,59.12 L55.80,59.10 L56.30,59.07 L56.80,59.05 L57.30,59.02 L57.80,59.00 L58.30,58.97 L58.80,58.94 L59.30,58.91 L59.80,58.87 L60.30,58.84 L60.80,58.80 L61.30,58.77 L61.80,58.73 L62.30,58.69 L62.80,58.65 L63.30,58.60 L63.80,58.56 L64.30,58.51 L64.80,58.47 L65.30,58.42 L65.80,58.37 L66.30,58.32 L66.80,58.26 L67.30,58.21 L67.80,58.15 L68.30,58.09 L68.80,58.03 L69.30,57.97 L69.80,57.91 L70.30,57.84 L70.80,57.78 L71.30,57.71 L71.80,57.64 L72.30,57.57 L72.80,57.49 L73.30,57.42 L73.80,57.34 L74.30,57.27 L74.80,57.19 L75.30,57.11 L75.80,57.02 L76.30,56.94 L76.80,56.85 L77.30,56.77 L77.80,56.68 L78.30,56.58 L78.80,56.49 L79.30,56.40 L79.80,56.30 L80.30,56.20 L80.80,56.10 L81.30,56.00 L81.80,55.89 L82.30,55.79 L82.80,55.68 L83.30,55.56 L83.80,55.44 L84.30,55.32 L84.80,55.20 L85.30,55.13 L85.80,55.11 L86.30,55.08 L86.80,55.04 L87.30,54.99 L87.80,54.92 L88.30,54.85 L88.80,54.75 L89.30,54.63 L89.80,54.48 L90.30,54.30 L90.80,54.07 L91.30,53.80 L91.80,53.47 L92.30,53.08 L92.80,52.61 L93.30,52.06 L93.80,51.41 L94.30,50.67 L94.80,49.82 L95.30,48.86 L95.80,47.80 L96.30,46.63 L96.80,45.36 L97.30,44.03 L97.80,42.66 L98.30,41.29 L98.80,39.99 L99.30,38.85 L99.80,38.03 L100.30,38.07 L100.80,38.58 L101.30,39.21 L101.80,39.90 L102.30,40.62 L102.80,41.34 L103.30,42.03 L103.80,42.69 L104.30,43.31 L104.80,43.87 L105.30,44.39 L105.80,44.86 L106.30,45.28 L106.80,45.66 L107.30,45.99 L107.80,46.27 L108.30,46.53 L108.80,46.75 L109.30,46.94 L109.80,47.11 L110.30,47.25 L110.80,47.38 L111.30,47.49 L111.80,47.59 L112.30,47.68 L112.80,47.76 L113.30,47.83 L113.80,47.89 L114.30,47.95 L114.80,48.00 L115.30,48.05 L115.80,48.10 L116.30,48.14 L116.80,48.18 L117.30,48.22 L117.80,48.25 L118.30,48.28 L118.80,48.31 L119.30,48.34 L119.80,48.36 L120.30,48.39 L120.80,48.41 L121.30,48.42 L121.80,48.44 L122.30,48.45 L122.80,48.46 L123.30,48.46 L123.80,48.46 L124.30,48.46 L124.80,48.45 L125.30,48.44 L125.80,48.42 L126.30,48.39 L126.80,48.35 L127.30,48.31 L127.80,48.25 L128.30,48.18 L128.80,48.10 L129.30,48.00 L129.80,47.88 L130.30,47.75 L130.80,47.59 L131.30,47.40 L131.80,47.19 L132.30,46.94 L132.80,46.66 L133.30,46.34 L133.80,45.97 L134.30,45.56 L134.80,45.09 L135.30,44.58 L135.80,44.00 L136.30,43.37 L136.80,42.67 L137.30,41.92 L137.80,41.11 L138.30,40.25 L138.80,39.34 L139.30,38.38 L139.80,37.40 L140.30,36.39 L140.80,35.37 L141.30,34.35 L141.80,33.34 L142.30,32.34 L142.80,31.37 L143.30,30.43 L143.80,29.50 L144.30,28.58 L144.80,27.65 L145.30,26.72 L145.80,25.80 L146.30,24.97 L146.80,24.27 L147.30,23.78 L147.80,23.52 L148.30,23.48 L148.80,23.61 L149.30,23.84 L149.80,24.07 L150.30,24.27 L150.80,24.38 L151.30,24.42 L151.80,24.41 L151.90,24.40"/>
<path d="M45.80,59.30 L46.30,59.30 L46.80,59.30 L47.30,59.30 L47.80,59.29 L48.30,59.29 L48.80,59.29 L49.30,59.28 L49.80,59.27 L50.30,59.26 L50.80,59.26 L51.30,59.25 L51.80,59.23 L52.30,59.22 L52.80,59.21 L53.30,59.19 L53.80,59.18 L54.30,59.16 L54.80,59.14 L55.30,59.12 L55.80,59.10 L56.30,59.07 L56.80,59.05 L57.30,59.02 L57.80,59.00 L58.30,58.97 L58.80,58.94 L59.30,58.91 L59.80,58.87 L60.30,58.84 L60.80,58.80 L61.30,58.77 L61.80,58.73 L62.30,58.69 L62.80,58.65 L63.30,58.60 L63.80,58.56 L64.30,58.51 L64.80,58.47 L65.30,58.42 L65.80,58.37 L66.30,58.32 L66.80,58.26 L67.30,58.21 L67.80,58.15 L68.30,58.09 L68.80,58.03 L69.30,57.97 L69.80,57.91 L70.30,57.84 L70.80,57.78 L71.30,57.71 L71.80,57.64 L72.30,57.57 L72.80,57.49 L73.30,57.42 L73.80,57.34 L74.30,57.27 L74.80,57.19 L75.30,57.11 L75.80,57.02 L76.30,56.94 L76.80,56.85 L77.30,56.76 L77.80,56.67 L78.30,56.58 L78.80,56.49 L79.30,56.39 L79.80,56.30 L80.30,56.20 L80.80,56.09 L81.30,55.99 L81.80,55.88 L82.30,55.77 L82.80,55.65 L83.30,55.53 L83.80,55.41 L84.30,55.28 L84.80,55.14 L85.30,55.06 L85.80,55.02 L86.30,54.97 L86.80,54.90 L87.30,54.82 L87.80,54.72 L88.30,54.60 L88.80,54.45 L89.30,54.27 L89.80,54.05 L90.30,53.79 L90.80,53.47 L91.30,53.10 L91.80,52.66 L92.30,52.14 L92.80,51.54 L93.30,50.85 L93.80,50.05 L94.30,49.16 L94.80,48.15 L95.30,47.03 L95.80,45.81 L96.30,44.49 L96.80,43.09 L97.30,41.63 L97.80,40.15 L98.30,38.68 L98.80,37.31 L99.30,36.12 L99.80,35.26 L100.30,35.31 L100.80,35.85 L101.30,36.53 L101.80,37.28 L102.30,38.05 L102.80,38.83 L103.30,39.60 L103.80,40.34 L104.30,41.04 L104.80,41.69 L105.30,42.29 L105.80,42.85 L106.30,43.35 L106.80,43.81 L107.30,44.21 L107.80,44.57 L108.30,44.90 L108.80,45.18 L109.30,45.43 L109.80,45.65 L110.30,45.84 L110.80,46.01 L111.30,46.16 L111.80,46.30 L112.30,46.42 L112.80,46.52 L113.30,46.61 L113.80,46.70 L114.30,46.78 L114.80,46.84 L115.30,46.91 L115.80,46.97 L116.30,47.02 L116.80,47.07 L117.30,47.11 L117.80,47.16 L118.30,47.19 L118.80,47.23 L119.30,47.26 L119.80,47.30 L120.30,47.32 L120.80,47.35 L121.30,47.37 L121.80,47.39 L122.30,47.41 L122.80,47.42 L123.30,47.43 L123.80,47.43 L124.30,47.43 L124.80,47.43 L125.30,47.42 L125.80,47.40 L126.30,47.38 L126.80,47.34 L127.30,47.30 L127.80,47.25 L128.30,47.18 L128.80,47.11 L129.30,47.01 L129.80,46.90 L130.30,46.77 L130.80,46.61 L131.30,46.43 L131.80,46.22 L132.30,45.98 L132.80,45.70 L133.30,45.39 L133.80,45.03 L134.30,44.62 L134.80,44.17 L135.30,43.66 L135.80,43.10 L136.30,42.48 L136.80,41.80 L137.30,41.06 L137.80,40.27 L138.30,39.43 L138.80,38.54 L139.30,37.61 L139.80,36.65 L140.30,35.67 L140.80,34.68 L141.30,33.68 L141.80,32.70 L142.30,31.74 L142.80,30.80 L143.30,29.88 L143.80,28.98 L144.30,28.08 L144.80,27.18 L145.30,26.27 L145.80,25.37 L146.30,24.55 L146.80,23.87 L147.30,23.39 L147.80,23.15 L148.30,23.13 L148.80,23.27 L149.30,23.51 L149.80,23.76 L150.30,23.97 L150.80,24.09 L151.30,24.14 L151.80,24.13 L151.90,24.12"/>
<path d="M45.80,59.30 L46.30,59.30 L46.80,59.30 L47.30,59.30 L47.80,59.29 L48.30,59.29 L48.80,59.29 L49.30,59.28 L49.80,59.27 L50.30,59.26 L50.80,59.26 L51.30,59.25 L51.80,59.23 L52.30,59.22 L52.80,59.21 L53.30,59.19 L53.80,59.18 L54.30,59.16 L54.80,59.14 L55.30,59.12 L55.80,59.10 L56.30,59.07 L56.80,59.05 L57.30,59.02 L57.80,59.00 L58.30,58.97 L58.80,58.94 L59.30,58.91 L59.80,58.87 L60.30,58.84 L60.80,58.80 L61.30,58.77 L61.80,58.73 L62.30,58.69 L62.80,58.65 L63.30,58.60 L63.80,58.56 L64.30,58.51 L64.80,58.47 L65.30,58.42 L65.80,58.37 L66.30,58.32 L66.80,58.26 L67.30,58.21 L67.80,58.15 L68.30,58.09 L68.80,58.03 L69.30,57.97 L69.80,57.91 L70.30,57.84 L70.80,57.78 L71.30,57.71 L71.80,57.64 L72.30,57.57 L72.80,57.49 L73.30,57.42 L73.80,57.34 L74.30,57.27 L74.80,57.19 L75.30,57.11 L75.80,57.02 L76.30,56.94 L76.80,56.85 L77.30,56.76 L77.80,56.67 L78.30,56.58 L78.80,56.48 L79.30,56.39 L79.80,56.29 L80.30,56.18 L80.80,56.08 L81.30,55.97 L81.80,55.86 L82.30,55.74 L82.80,55.62 L83.30,55.49 L83.80,55.35 L84.30,55.21 L84.80,55.05 L85.30,54.96 L85.80,54.89 L86.30,54.81 L86.80,54.71 L87.30,54.59 L87.80,54.44 L88.30,54.27 L88.80,54.06 L89.30,53.81 L89.80,53.51 L90.30,53.16 L90.80,52.75 L91.30,52.27 L91.80,51.71 L92.30,51.07 L92.80,50.34 L93.30,49.50 L93.80,48.57 L94.30,47.52 L94.80,46.37 L95.30,45.10 L95.80,43.74 L96.30,42.28 L96.80,40.76 L97.30,39.19 L97.80,37.60 L98.30,36.06 L98.80,34.62 L99.30,33.38 L99.80,32.49 L100.30,32.55 L100.80,33.13 L101.30,33.84 L101.80,34.64 L102.30,35.47 L102.80,36.31 L103.30,37.15 L103.80,37.96 L104.30,38.73 L104.80,39.46 L105.30,40.14 L105.80,40.78 L106.30,41.36 L106.80,41.89 L107.30,42.38 L107.80,42.81 L108.30,43.20 L108.80,43.55 L109.30,43.86 L109.80,44.13 L110.30,44.38 L110.80,44.60 L111.30,44.79 L111.80,44.96 L112.30,45.11 L112.80,45.25 L113.30,45.37 L113.80,45.48 L114.30,45.58 L114.80,45.66 L115.30,45.74 L115.80,45.82 L116.30,45.88 L116.80,45.95 L117.30,46.00 L117.80,46.05 L118.30,46.10 L118.80,46.15 L119.30,46.19 L119.80,46.23 L120.30,46.26 L120.80,46.29 L121.30,46.32 L121.80,46.34 L122.30,46.36 L122.80,46.38 L123.30,46.40 L123.80,46.40 L124.30,46.41 L124.80,46.41 L125.30,46.40 L125.80,46.39 L126.30,46.37 L126.80,46.34 L127.30,46.30 L127.80,46.25 L128.30,46.19 L128.80,46.11 L129.30,46.02 L129.80,45.91 L130.30,45.79 L130.80,45.64 L131.30,45.46 L131.80,45.26 L132.30,45.02 L132.80,44.75 L133.30,44.44 L133.80,44.09 L134.30,43.69 L134.80,43.25 L135.30,42.75 L135.80,42.20 L136.30,41.59 L136.80,40.93 L137.30,40.21 L137.80,39.44 L138.30,38.61 L138.80,37.75 L139.30,36.84 L139.80,35.91 L140.30,34.95 L140.80,33.99 L141.30,33.03 L141.80,32.07 L142.30,31.14 L142.80,30.23 L143.30,29.34 L143.80,28.47 L144.30,27.59 L144.80,26.71 L145.30,25.82 L145.80,24.94 L146.30,24.14 L146.80,23.47 L147.30,23.01 L147.80,22.78 L148.30,22.78 L148.80,22.94 L149.30,23.19 L149.80,23.45 L150.30,23.66 L150.80,23.80 L151.30,23.85 L151.80,23.85 L151.90,23.84"/>
<path d="M45.80,59.30 L46.30,59.30 L46.80,59.30 L47.30,59.30 L47.80,59.29 L48.30,59.29 L48.80,59.29 L49.30,59.28 L49.80,59.27 L50.30,59.26 L50.80,59.26 L51.30,59.25 L51.80,59.23 L52.30,59.22 L52.80,59.21 L53.30,59.19 L53.80,59.18 L54.30,59.16 L54.80,59.14 L55.30,59.12 L55.80,59.10 L56.30,59.07 L56.80,59.05 L57.30,59.02 L57.80,59.00 L58.30,58.97 L58.80,58.94 L59.30,58.91 L59.80,58.87 L60.30,58.84 L60.80,58.80 L61.30,58.77 L61.80,58.73 L62.30,58.69 L62.80,58.65 L63.30,58.60 L63.80,58.56 L64.30,58.51 L64.80,58.47 L65.30,58.42 L65.80,58.37 L66.30,58.32 L66.80,58.26 L67.30,58.21 L67.80,58.15 L68.30,58.09 L68.80,58.03 L69.30,57.97 L69.80,57.91 L70.30,57.84 L70.80,57.78 L71.30,57.71 L71.80,57.64 L72.30,57.57 L72.80,57.49 L73.30,57.42 L73.80,57.34 L74.30,57.26 L74.80,57.19 L75.30,57.10 L75.80,57.02 L76.30,56.93 L76.80,56.85 L77.30,56.76 L77.80,56.67 L78.30,56.57 L78.80,56.47 L79.30,56.37 L79.80,56.27 L80.30,56.16 L80.80,56.05 L81.30,55.94 L81.80,55.82 L82.30,55.69 L82.80,55.56 L83.30,55.42 L83.80,55.27 L84.30,55.10 L84.80,54.93 L85.30,54.80 L85.80,54.70 L86.30,54.59 L86.80,54.45 L87.30,54.28 L87.80,54.08 L88.30,53.84 L88.80,53.57 L89.30,53.24 L89.80,52.86 L90.30,52.42 L90.80,51.90 L91.30,51.31 L91.80,50.64 L92.30,49.88 L92.80,49.01 L93.30,48.04 L93.80,46.97 L94.30,45.79 L94.80,44.49 L95.30,43.09 L95.80,41.60 L96.30,40.02 L96.80,38.38 L97.30,36.71 L97.80,35.04 L98.30,33.42 L98.80,31.92 L99.30,30.64 L99.80,29.72 L100.30,29.79 L100.80,30.40 L101.30,31.15 L101.80,31.99 L102.30,32.87 L102.80,33.77 L103.30,34.67 L103.80,35.54 L104.30,36.39 L104.80,37.19 L105.30,37.95 L105.80,38.66 L106.30,39.32 L106.80,39.93 L107.30,40.48 L107.80,40.99 L108.30,41.45 L108.80,41.86 L109.30,42.23 L109.80,42.56 L110.30,42.86 L110.80,43.13 L111.30,43.37 L111.80,43.58 L112.30,43.77 L112.80,43.94 L113.30,44.09 L113.80,44.23 L114.30,44.35 L114.80,44.46 L115.30,44.56 L115.80,44.65 L116.30,44.73 L116.80,44.81 L117.30,44.88 L117.80,44.94 L118.30,45.00 L118.80,45.05 L119.30,45.10 L119.80,45.15 L120.30,45.19 L120.80,45.23 L121.30,45.26 L121.80,45.29 L122.30,45.32 L122.80,45.34 L123.30,45.36 L123.80,45.37 L124.30,45.38 L124.80,45.39 L125.30,45.38 L125.80,45.37 L126.30,45.36 L126.80,45.33 L127.30,45.30 L127.80,45.25 L128.30,45.19 L128.80,45.12 L129.30,45.04 L129.80,44.93 L130.30,44.81 L130.80,44.66 L131.30,44.49 L131.80,44.29 L132.30,44.06 L132.80,43.80 L133.30,43.49 L133.80,43.15 L134.30,42.76 L134.80,42.33 L135.30,41.84 L135.80,41.30 L136.30,40.71 L136.80,40.06 L137.30,39.36 L137.80,38.60 L138.30,37.80 L138.80,36.96 L139.30,36.08 L139.80,35.17 L140.30,34.24 L140.80,33.31 L141.30,32.37 L141.80,31.45 L142.30,30.54 L142.80,29.66 L143.30,28.80 L143.80,27.95 L144.30,27.10 L144.80,26.24 L145.30,25.37 L145.80,24.51 L146.30,23.72 L146.80,23.07 L147.30,22.63 L147.80,22.42 L148.30,22.43 L148.80,22.60 L149.30,22.86 L149.80,23.14 L150.30,23.36 L150.80,23.50 L151.30,23.57 L151.80,23.57 L151.90,23.56"/>
<path d="M45.80,59.30 L46.30,59.30 L46.80,59.30 L47.30,59.30 L47.80,59.29 L48.30,59.29 L48.80,59.29 L49.30,59.28 L49.80,59.27 L50.30,59.26 L50.80,59.26 L51.30,59.25 L51.80,59.23 L52.30,59.22 L52.80,59.21 L53.30,59.19 L53.80,59.18 L54.30,59.16 L54.80,59.14 L55.30,59.12 L55.80,59.10 L56.30,59.07 L56.80,59.05 L57.30,59.02 L57.80,59.00 L58.30,58.97 L58.80,58.94 L59.30,58.91 L59.80,58.87 L60.30,58.84 L60.80,58.80 L61.30,58.77 L61.80,58.73 L62.30,58.69 L62.80,58.65 L63.30,58.60 L63.80,58.56 L64.30,58.51 L64.80,58.47 L65.30,58.42 L65.80,58.37 L66.30,58.32 L66.80,58.26 L67.30,58.21 L67.80,58.15 L68.30,58.09 L68.80,58.03 L69.30,57.97 L69.80,57.91 L70.30,57.84 L70.80,57.78 L71.30,57.71 L71.80,57.64 L72.30,57.57 L72.80,57.49 L73.30,57.42 L73.80,57.34 L74.30,57.26 L74.80,57.18 L75.30,57.10 L75.80,57.02 L76.30,56.93 L76.80,56.84 L77.30,56.75 L77.80,56.65 L78.30,56.56 L78.80,56.46 L79.30,56.35 L79.80,56.25 L80.30,56.13 L80.80,56.02 L81.30,55.89 L81.80,55.76 L82.30,55.62 L82.80,55.47 L83.30,55.32 L83.80,55.14 L84.30,54.96 L84.80,54.76 L85.30,54.60 L85.80,54.47 L86.30,54.31 L86.80,54.12 L87.30,53.90 L87.80,53.64 L88.30,53.34 L88.80,52.99 L89.30,52.58 L89.80,52.11 L90.30,51.57 L90.80,50.95 L91.30,50.25 L91.80,49.46 L92.30,48.58 L92.80,47.59 L93.30,46.49 L93.80,45.28 L94.30,43.97 L94.80,42.54 L95.30,41.02 L95.80,39.40 L96.30,37.71 L96.80,35.97 L97.30,34.21 L97.80,32.46 L98.30,30.77 L98.80,29.22 L99.30,27.89 L99.80,26.95 L100.30,27.03 L100.80,27.67 L101.30,28.46 L101.80,29.34 L102.30,30.27 L102.80,31.22 L103.30,32.18 L103.80,33.11 L104.30,34.02 L104.80,34.89 L105.30,35.72 L105.80,36.51 L106.30,37.24 L106.80,37.92 L107.30,38.54 L107.80,39.12 L108.30,39.64 L108.80,40.12 L109.30,40.55 L109.80,40.94 L110.30,41.30 L110.80,41.62 L111.30,41.90 L111.80,42.16 L112.30,42.39 L112.80,42.59 L113.30,42.78 L113.80,42.95 L114.30,43.10 L114.80,43.23 L115.30,43.35 L115.80,43.47 L116.30,43.57 L116.80,43.66 L117.30,43.74 L117.80,43.82 L118.30,43.89 L118.80,43.95 L119.30,44.01 L119.80,44.07 L120.30,44.12 L120.80,44.16 L121.30,44.20 L121.80,44.24 L122.30,44.27 L122.80,44.30 L123.30,44.32 L123.80,44.34 L124.30,44.36 L124.80,44.36 L125.30,44.37 L125.80,44.36 L126.30,44.35 L126.80,44.33 L127.30,44.29 L127.80,44.25 L128.30,44.20 L128.80,44.13 L129.30,44.05 L129.80,43.95 L130.30,43.83 L130.80,43.69 L131.30,43.52 L131.80,43.33 L132.30,43.10 L132.80,42.84 L133.30,42.55 L133.80,42.21 L134.30,41.84 L134.80,41.41 L135.30,40.93 L135.80,40.41 L136.30,39.83 L136.80,39.20 L137.30,38.51 L137.80,37.78 L138.30,37.00 L138.80,36.17 L139.30,35.32 L139.80,34.44 L140.30,33.54 L140.80,32.63 L141.30,31.72 L141.80,30.83 L142.30,29.95 L142.80,29.10 L143.30,28.26 L143.80,27.44 L144.30,26.62 L144.80,25.78 L145.30,24.92 L145.80,24.08 L146.30,23.31 L146.80,22.68 L147.30,22.25 L147.80,22.05 L148.30,22.07 L148.80,22.26 L149.30,22.54 L149.80,22.83 L150.30,23.06 L150.80,23.21 L151.30,23.28 L151.80,23.29 L151.90,23.28"/>
<path d="M45.80,59.30 L46.30,59.30 L46.80,59.30 L47.30,59.30 L47.80,59.29 L48.30,59.29 L48.80,59.29 L49.30,59.28 L49.80,59.27 L50.30,59.26 L50.80,59.26 L51.30,59.25 L51.80,59.23 L52.30,59.22 L52.80,59.21 L53.30,59.19 L53.80,59.18 L54.30,59.16 L54.80,59.14 L55.30,59.12 L55.80,59.10 L56.30,59.07 L56.80,59.05 L57.30,59.02 L57.80,59.00 L58.30,58.97 L58.80,58.94 L59.30,58.91 L59.80,58.87 L60.30,58.84 L60.80,58.80 L61.30,58.77 L61.80,58.73 L62.30,58.69 L62.80,58.65 L63.30,58.60 L63.80,58.56 L64.30,58.51 L64.80,58.47 L65.30,58.42 L65.80,58.37 L66.30,58.31 L66.80,58.26 L67.30,58.21 L67.80,58.15 L68.30,58.09 L68.80,58.03 L69.30,57.97 L69.80,57.91 L70.30,57.84 L70.80,57.77 L71.30,57.71 L71.80,57.64 L72.30,57.56 L72.80,57.49 L73.30,57.42 L73.80,57.34 L74.30,57.26 L74.80,57.18 L75.30,57.09 L75.80,57.01 L76.30,56.92 L76.80,56.83 L77.30,56.73 L77.80,56.64 L78.30,56.54 L78.80,56.43 L79.30,56.32 L79.80,56.21 L80.30,56.09 L80.80,55.96 L81.30,55.83 L81.80,55.68 L82.30,55.53 L82.80,55.36 L83.30,55.18 L83.80,54.99 L84.30,54.77 L84.80,54.54 L85.30,54.34 L85.80,54.17 L86.30,53.96 L86.80,53.73 L87.30,53.45 L87.80,53.12 L88.30,52.75 L88.80,52.32 L89.30,51.83 L89.80,51.27 L90.30,50.63 L90.80,49.91 L91.30,49.10 L91.80,48.19 L92.30,47.18 L92.80,46.07 L93.30,44.85 L93.80,43.52 L94.30,42.07 L94.80,40.53 L95.30,38.89 L95.80,37.16 L96.30,35.37 L96.80,33.53 L97.30,31.68 L97.80,29.86 L98.30,28.11 L98.80,26.51 L99.30,25.15 L99.80,24.18 L100.30,24.27 L100.80,24.94 L101.30,25.77 L101.80,26.69 L102.30,27.66 L102.80,28.66 L103.30,29.67 L103.80,30.66 L104.30,31.63 L104.80,32.57 L105.30,33.47 L105.80,34.32 L106.30,35.12 L106.80,35.87 L107.30,36.56 L107.80,37.20 L108.30,37.79 L108.80,38.34 L109.30,38.83 L109.80,39.28 L110.30,39.69 L110.80,40.06 L111.30,40.39 L111.80,40.69 L112.30,40.97 L112.80,41.21 L113.30,41.43 L113.80,41.63 L114.30,41.81 L114.80,41.98 L115.30,42.12 L115.80,42.26 L116.30,42.38 L116.80,42.49 L117.30,42.59 L117.80,42.68 L118.30,42.77 L118.80,42.84 L119.30,42.91 L119.80,42.98 L120.30,43.04 L120.80,43.09 L121.30,43.14 L121.80,43.18 L122.30,43.22 L122.80,43.26 L123.30,43.29 L123.80,43.31 L124.30,43.33 L124.80,43.34 L125.30,43.35 L125.80,43.35 L126.30,43.34 L126.80,43.32 L127.30,43.29 L127.80,43.25 L128.30,43.20 L128.80,43.14 L129.30,43.06 L129.80,42.97 L130.30,42.85 L130.80,42.71 L131.30,42.55 L131.80,42.37 L132.30,42.15 L132.80,41.90 L133.30,41.61 L133.80,41.28 L134.30,40.91 L134.80,40.49 L135.30,40.03 L135.80,39.52 L136.30,38.95 L136.80,38.34 L137.30,37.67 L137.80,36.95 L138.30,36.19 L138.80,35.39 L139.30,34.56 L139.80,33.71 L140.30,32.83 L140.80,31.95 L141.30,31.08 L141.80,30.21 L142.30,29.36 L142.80,28.54 L143.30,27.73 L143.80,26.93 L144.30,26.13 L144.80,25.32 L145.30,24.48 L145.80,23.66 L146.30,22.90 L146.80,22.28 L147.30,21.87 L147.80,21.69 L148.30,21.72 L148.80,21.93 L149.30,22.22 L149.80,22.52 L150.30,22.76 L150.80,22.92 L151.30,23.00 L151.80,23.01 L151.90,23.01"/>
<path d="M45.80,59.30 L46.30,59.30 L46.80,59.30 L47.30,59.30 L47.80,59.29 L48.30,59.29 L48.80,59.29 L49.30,59.28 L49.80,59.27 L50.30,59.26 L50.80,59.26 L51.30,59.25 L51.80,59.23 L52.30,59.22 L52.80,59.21 L53.30,59.19 L53.80,59.18 L54.30,59.16 L54.80,59.14 L55.30,59.12 L55.80,59.10 L56.30,59.07 L56.80,59.05 L57.30,59.02 L57.80,59.00 L58.30,58.97 L58.80,58.94 L59.30,58.91 L59.80,58.87 L60.30,58.84 L60.80,58.80 L61.30,58.77 L61.80,58.73 L62.30,58.69 L62.80,58.65 L63.30,58.60 L63.80,58.56 L64.30,58.51 L64.80,58.47 L65.30,58.42 L65.80,58.37 L66.30,58.31 L66.80,58.26 L67.30,58.21 L67.80,58.15 L68.30,58.09 L68.80,58.03 L69.30,57.97 L69.80,57.91 L70.30,57.84 L70.80,57.77 L71.30,57.70 L71.80,57.63 L72.30,57.56 L72.80,57.49 L73.30,57.41 L73.80,57.33 L74.30,57.25 L74.80,57.17 L75.30,57.08 L75.80,57.00 L76.30,56.91 L76.80,56.81 L77.30,56.71 L77.80,56.61 L78.30,56.51 L78.80,56.39 L79.30,56.28 L79.80,56.15 L80.30,56.02 L80.80,55.88 L81.30,55.74 L81.80,55.58 L82.30,55.40 L82.80,55.22 L83.30,55.01 L83.80,54.79 L84.30,54.54 L84.80,54.27 L85.30,54.04 L85.80,53.82 L86.30,53.56 L86.80,53.26 L87.30,52.92 L87.80,52.53 L88.30,52.08 L88.80,51.57 L89.30,50.99 L89.80,50.33 L90.30,49.60 L90.80,48.77 L91.30,47.85 L91.80,46.83 L92.30,45.71 L92.80,44.47 L93.30,43.13 L93.80,41.68 L94.30,40.12 L94.80,38.46 L95.30,36.71 L95.80,34.88 L96.30,32.99 L96.80,31.07 L97.30,29.14 L97.80,27.25 L98.30,25.44 L98.80,23.80 L99.30,22.40 L99.80,21.41 L100.30,21.50 L100.80,22.21 L101.30,23.07 L101.80,24.03 L102.30,25.04 L102.80,26.09 L103.30,27.15 L103.80,28.20 L104.30,29.23 L104.80,30.22 L105.30,31.18 L105.80,32.10 L106.30,32.97 L106.80,33.78 L107.30,34.54 L107.80,35.25 L108.30,35.91 L108.80,36.51 L109.30,37.07 L109.80,37.57 L110.30,38.04 L110.80,38.46 L111.30,38.85 L111.80,39.19 L112.30,39.51 L112.80,39.80 L113.30,40.06 L113.80,40.29 L114.30,40.50 L114.80,40.70 L115.30,40.87 L115.80,41.03 L116.30,41.17 L116.80,41.30 L117.30,41.42 L117.80,41.53 L118.30,41.63 L118.80,41.72 L119.30,41.80 L119.80,41.88 L120.30,41.95 L120.80,42.01 L121.30,42.07 L121.80,42.12 L122.30,42.17 L122.80,42.21 L123.30,42.24 L123.80,42.27 L124.30,42.30 L124.80,42.31 L125.30,42.33 L125.80,42.33 L126.30,42.32 L126.80,42.31 L127.30,42.29 L127.80,42.26 L128.30,42.21 L128.80,42.15 L129.30,42.08 L129.80,41.99 L130.30,41.87 L130.80,41.74 L131.30,41.59 L131.80,41.40 L132.30,41.19 L132.80,40.95 L133.30,40.67 L133.80,40.35 L134.30,39.99 L134.80,39.58 L135.30,39.13 L135.80,38.63 L136.30,38.08 L136.80,37.48 L137.30,36.83 L137.80,36.13 L138.30,35.40 L138.80,34.62 L139.30,33.81 L139.80,32.98 L140.30,32.14 L140.80,31.29 L141.30,30.44 L141.80,29.60 L142.30,28.78 L142.80,27.98 L143.30,27.20 L143.80,26.43 L144.30,25.65 L144.80,24.86 L145.30,24.04 L145.80,23.24 L146.30,22.49 L146.80,21.89 L147.30,21.49 L147.80,21.32 L148.30,21.38 L148.80,21.59 L149.30,21.90 L149.80,22.21 L150.30,22.46 L150.80,22.63 L151.30,22.71 L151.80,22.73 L151.90,22.73"/>
<path d="M45.80,59.30 L46.30,59.30 L46.80,59.30 L47.30,59.30 L47.80,59.29 L48.30,59.29 L48.80,59.29 L49.30,59.28 L49.80,59.27 L50.30,59.26 L50.80,59.26 L51.30,59.25 L51.80,59.23 L52.30,59.22 L52.80,59.21 L53.30,59.19 L53.80,59.18 L54.30,59.16 L54.80,59.14 L55.30,59.12 L55.80,59.10 L56.30,59.07 L56.80,59.05 L57.30,59.02 L57.80,59.00 L58.30,58.97 L58.80,58.94 L59.30,58.91 L59.80,58.87 L60.30,58.84 L60.80,58.80 L61.30,58.77 L61.80,58.73 L62.30,58.69 L62.80,58.65 L63.30,58.60 L63.80,58.56 L64.30,58.51 L64.80,58.47 L65.30,58.42 L65.80,58.37 L66.30,58.31 L66.80,58.26 L67.30,58.21 L67.80,58.15 L68.30,58.09 L68.80,58.03 L69.30,57.97 L69.80,57.90 L70.30,57.84 L70.80,57.77 L71.30,57.70 L71.80,57.63 L72.30,57.56 L72.80,57.48 L73.30,57.41 L73.80,57.33 L74.30,57.24 L74.80,57.16 L75.30,57.07 L75.80,56.98 L76.30,56.88 L76.80,56.79 L77.30,56.68 L77.80,56.58 L78.30,56.46 L78.80,56.34 L79.30,56.22 L79.80,56.08 L80.30,55.94 L80.80,55.79 L81.30,55.62 L81.80,55.44 L82.30,55.25 L82.80,55.03 L83.30,54.80 L83.80,54.55 L84.30,54.26 L84.80,53.95 L85.30,53.67 L85.80,53.40 L86.30,53.09 L86.80,52.73 L87.30,52.33 L87.80,51.86 L88.30,51.34 L88.80,50.74 L89.30,50.07 L89.80,49.32 L90.30,48.49 L90.80,47.56 L91.30,46.53 L91.80,45.40 L92.30,44.16 L92.80,42.81 L93.30,41.35 L93.80,39.79 L94.30,38.12 L94.80,36.35 L95.30,34.49 L95.80,32.57 L96.30,30.59 L96.80,28.58 L97.30,26.58 L97.80,24.62 L98.30,22.77 L98.80,21.08 L99.30,19.65 L99.80,18.64 L100.30,18.74 L100.80,19.47 L101.30,20.37 L101.80,21.36 L102.30,22.42 L102.80,23.51 L103.30,24.62 L103.80,25.72 L104.30,26.80 L104.80,27.86 L105.30,28.88 L105.80,29.86 L106.30,30.79 L106.80,31.67 L107.30,32.49 L107.80,33.26 L108.30,33.98 L108.80,34.65 L109.30,35.26 L109.80,35.83 L110.30,36.35 L110.80,36.83 L111.30,37.26 L111.80,37.66 L112.30,38.02 L112.80,38.35 L113.30,38.65 L113.80,38.92 L114.30,39.16 L114.80,39.39 L115.30,39.59 L115.80,39.78 L116.30,39.94 L116.80,40.10 L117.30,40.24 L117.80,40.36 L118.30,40.48 L118.80,40.59 L119.30,40.68 L119.80,40.77 L120.30,40.85 L120.80,40.93 L121.30,40.99 L121.80,41.05 L122.30,41.11 L122.80,41.16 L123.30,41.20 L123.80,41.23 L124.30,41.26 L124.80,41.29 L125.30,41.30 L125.80,41.31 L126.30,41.31 L126.80,41.30 L127.30,41.29 L127.80,41.26 L128.30,41.22 L128.80,41.16 L129.30,41.09 L129.80,41.00 L130.30,40.90 L130.80,40.77 L131.30,40.62 L131.80,40.44 L132.30,40.24 L132.80,40.00 L133.30,39.73 L133.80,39.42 L134.30,39.07 L134.80,38.67 L135.30,38.23 L135.80,37.74 L136.30,37.21 L136.80,36.63 L137.30,35.99 L137.80,35.32 L138.30,34.60 L138.80,33.85 L139.30,33.07 L139.80,32.26 L140.30,31.44 L140.80,30.62 L141.30,29.80 L141.80,28.99 L142.30,28.20 L142.80,27.43 L143.30,26.68 L143.80,25.93 L144.30,25.18 L144.80,24.40 L145.30,23.60 L145.80,22.82 L146.30,22.09 L146.80,21.50 L147.30,21.11 L147.80,20.96 L148.30,21.03 L148.80,21.26 L149.30,21.58 L149.80,21.90 L150.30,22.16 L150.80,22.34 L151.30,22.43 L151.80,22.45 L151.90,22.45"/>
</g><g stroke-width="1.0">
<path d="M151.90,25.80 L151.90,25.80 L151.40,30.27 L150.90,37.36 L150.40,45.77 L149.90,50.13 L149.40,52.07 L148.90,53.17 L148.40,53.98 L147.90,54.64 L147.40,55.21 L146.90,55.70 L146.40,56.13 L145.90,56.50 L145.40,56.82 L144.90,57.10 L144.40,57.34 L143.90,57.56 L143.40,57.74 L142.90,57.90 L142.40,58.04 L141.90,58.17 L141.40,58.27 L140.90,58.37 L140.40,58.45 L139.90,58.53 L139.40,58.59 L138.90,58.65 L138.40,58.70 L137.90,58.75 L137.40,58.79 L136.90,58.82 L136.40,58.86 L135.90,58.89 L135.40,58.91 L134.90,58.94 L134.40,58.96 L133.90,58.99 L133.40,59.01 L132.90,59.03 L132.40,59.04 L131.90,59.06 L131.40,59.08 L130.90,59.09 L130.40,59.11 L129.90,59.13 L129.40,59.14 L128.90,59.16 L128.40,59.17 L127.90,59.19 L127.40,59.20 L126.90,59.22 L126.40,59.23 L125.90,59.25 L125.40,59.26 L124.90,59.28 L124.40,59.29 L123.90,59.31 L123.40,59.32 L122.90,59.34 L122.40,59.35 L121.90,59.37 L121.40,59.41 L120.90,59.44 L120.40,59.48 L119.90,59.51 L119.40,59.55 L118.90,59.59 L118.40,59.62 L117.90,59.66 L117.40,59.69 L116.90,59.73 L116.40,59.77 L115.90,59.80 L115.40,59.84 L114.90,59.88 L114.40,59.91 L113.90,59.95 L113.40,59.99 L112.90,60.02 L112.40,60.06 L111.90,60.10 L111.40,60.14 L110.90,60.17 L110.40,60.21 L109.90,60.25 L109.40,60.29 L108.90,60.32 L108.40,60.36 L107.90,60.40 L107.40,60.43 L106.90,60.47 L106.40,60.51 L105.90,60.54 L105.40,60.58 L104.90,60.62 L104.40,60.65 L103.90,60.69 L103.40,60.72 L102.90,60.76 L102.40,60.79 L101.90,60.83 L101.40,60.86 L100.90,60.90 L100.40,60.93 L99.90,60.96 L99.40,60.99 L98.90,61.02 L98.40,61.05 L97.90,61.08 L97.40,61.11 L96.90,61.13 L96.40,61.16 L95.90,61.18 L95.40,61.20 L94.90,61.21 L94.40,61.22 L93.90,61.23 L93.40,61.23 L92.90,61.23 L92.40,61.23 L91.90,61.23 L91.40,61.22 L90.90,61.21 L90.40,61.20 L89.90,61.19 L89.40,61.17 L88.90,61.16 L88.40,61.14 L87.90,61.12 L87.40,61.10 L86.90,61.07 L86.40,61.05 L85.90,61.03 L85.40,61.00 L84.90,60.97 L84.40,60.94 L83.90,60.91 L83.40,60.88 L82.90,60.85 L82.40,60.81 L81.90,60.77 L81.40,60.70 L80.90,60.63 L80.40,60.56 L79.90,60.49 L79.40,60.42 L78.90,60.35 L78.40,60.30 L77.90,60.24 L77.40,60.20 L76.90,60.17 L76.40,60.14 L75.90,60.11 L75.40,60.09 L74.90,60.08 L74.40,60.06 L73.90,60.05 L73.40,60.04 L72.90,60.03 L72.40,60.02 L71.90,60.00 L71.40,59.99 L70.90,59.98 L70.40,59.97 L69.90,59.96 L69.40,59.96 L68.90,59.95 L68.40,59.94 L67.90,59.93 L67.40,59.92 L66.90,59.91 L66.40,59.90 L65.90,59.89 L65.40,59.88 L64.90,59.87 L64.40,59.86 L63.90,59.85 L63.40,59.84 L62.90,59.83 L62.40,59.82 L61.90,59.81 L61.40,59.80 L60.90,59.79 L60.40,59.78 L59.90,59.77 L59.40,59.76 L58.90,59.75 L58.40,59.74 L57.90,59.73 L57.40,59.72 L56.90,59.71 L56.40,59.70 L55.90,59.69 L55.40,59.68 L54.90,59.67 L54.40,59.66 L53.90,59.65 L53.40,59.64 L52.90,59.63 L52.40,59.62 L51.90,59.61 L51.40,59.60 L50.90,59.60 L50.40,59.59 L49.90,59.58 L49.40,59.57 L48.90,59.56 L48.40,59.55 L47.90,59.54 L47.40,59.53 L46.90,59.52 L46.40,59.51 L45.80,59.60"/>
<path d="M151.90,25.52 L151.90,25.52 L151.40,28.28 L150.90,32.87 L150.40,40.26 L149.90,46.76 L149.40,50.17 L148.90,51.89 L148.40,52.94 L147.90,53.72 L147.40,54.37 L146.90,54.93 L146.40,55.42 L145.90,55.86 L145.40,56.25 L144.90,56.59 L144.40,56.90 L143.90,57.17 L143.40,57.41 L142.90,57.62 L142.40,57.81 L141.90,57.98 L141.40,58.14 L140.90,58.27 L140.40,58.40 L139.90,58.51 L139.40,58.61 L138.90,58.70 L138.40,58.78 L137.90,58.86 L137.40,58.92 L136.90,58.99 L136.40,59.05 L135.90,59.10 L135.40,59.15 L134.90,59.20 L134.40,59.24 L133.90,59.28 L133.40,59.32 L132.90,59.36 L132.40,59.40 L131.90,59.43 L131.40,59.47 L130.90,59.50 L130.40,59.54 L129.90,59.57 L129.40,59.60 L128.90,59.63 L128.40,59.66 L127.90,59.69 L127.40,59.72 L126.90,59.76 L126.40,59.79 L125.90,59.82 L125.40,59.85 L124.90,59.88 L124.40,59.91 L123.90,59.94 L123.40,59.98 L122.90,60.01 L122.40,60.04 L121.90,60.08 L121.40,60.13 L120.90,60.18 L120.40,60.24 L119.90,60.29 L119.40,60.34 L118.90,60.39 L118.40,60.45 L117.90,60.50 L117.40,60.56 L116.90,60.61 L116.40,60.67 L115.90,60.72 L115.40,60.78 L114.90,60.83 L114.40,60.89 L113.90,60.95 L113.40,61.00 L112.90,61.06 L112.40,61.12 L111.90,61.17 L111.40,61.23 L110.90,61.29 L110.40,61.35 L109.90,61.40 L109.40,61.46 L108.90,61.52 L108.40,61.57 L107.90,61.63 L107.40,61.69 L106.90,61.74 L106.40,61.80 L105.90,61.85 L105.40,61.91 L104.90,61.96 L104.40,62.02 L103.90,62.07 L103.40,62.13 L102.90,62.18 L102.40,62.23 L101.90,62.28 L101.40,62.33 L100.90,62.38 L100.40,62.42 L99.90,62.47 L99.40,62.52 L98.90,62.56 L98.40,62.60 L97.90,62.64 L97.40,62.67 L96.90,62.71 L96.40,62.74 L95.90,62.76 L95.40,62.78 L94.90,62.78 L94.40,62.79 L93.90,62.78 L93.40,62.77 L92.90,62.75 L92.40,62.73 L91.90,62.70 L91.40,62.67 L90.90,62.63 L90.40,62.59 L89.90,62.54 L89.40,62.49 L88.90,62.44 L88.40,62.38 L87.90,62.32 L87.40,62.26 L86.90,62.19 L86.40,62.12 L85.90,62.05 L85.40,61.98 L84.90,61.90 L84.40,61.82 L83.90,61.74 L83.40,61.66 L82.90,61.57 L82.40,61.48 L81.90,61.38 L81.40,61.24 L80.90,61.11 L80.40,60.97 L79.90,60.84 L79.40,60.70 L78.90,60.58 L78.40,60.47 L77.90,60.38 L77.40,60.30 L76.90,60.23 L76.40,60.18 L75.90,60.15 L75.40,60.12 L74.90,60.09 L74.40,60.07 L73.90,60.06 L73.40,60.04 L72.90,60.03 L72.40,60.02 L71.90,60.01 L71.40,60.00 L70.90,59.99 L70.40,59.98 L69.90,59.97 L69.40,59.96 L68.90,59.95 L68.40,59.94 L67.90,59.93 L67.40,59.92 L66.90,59.91 L66.40,59.90 L65.90,59.89 L65.40,59.88 L64.90,59.87 L64.40,59.86 L63.90,59.85 L63.40,59.84 L62.90,59.83 L62.40,59.82 L61.90,59.81 L61.40,59.80 L60.90,59.79 L60.40,59.78 L59.90,59.77 L59.40,59.76 L58.90,59.75 L58.40,59.74 L57.90,59.73 L57.40,59.72 L56.90,59.71 L56.40,59.70 L55.90,59.69 L55.40,59.68 L54.90,59.67 L54.40,59.66 L53.90,59.65 L53.40,59.64 L52.90,59.63 L52.40,59.62 L51.90,59.61 L51.40,59.60 L50.90,59.60 L50.40,59.59 L49.90,59.58 L49.40,59.57 L48.90,59.56 L48.40,59.55 L47.90,59.54 L47.40,59.53 L46.90,59.52 L46.40,59.51 L45.80,59.60"/>
<path d="M151.90,25.24 L151.90,25.24 L151.40,27.10 L150.90,30.02 L150.40,35.35 L149.90,42.27 L149.40,47.37 L148.90,50.17 L148.40,51.72 L147.90,52.72 L147.40,53.49 L146.90,54.13 L146.40,54.68 L145.90,55.18 L145.40,55.62 L144.90,56.02 L144.40,56.38 L143.90,56.71 L143.40,57.00 L142.90,57.27 L142.40,57.51 L141.90,57.72 L141.40,57.92 L140.90,58.10 L140.40,58.27 L139.90,58.42 L139.40,58.55 L138.90,58.68 L138.40,58.79 L137.90,58.90 L137.40,59.00 L136.90,59.09 L136.40,59.18 L135.90,59.26 L135.40,59.34 L134.90,59.41 L134.40,59.48 L133.90,59.54 L133.40,59.60 L132.90,59.66 L132.40,59.72 L131.90,59.78 L131.40,59.83 L130.90,59.88 L130.40,59.93 L129.90,59.98 L129.40,60.03 L128.90,60.08 L128.40,60.13 L127.90,60.18 L127.40,60.23 L126.90,60.28 L126.40,60.33 L125.90,60.38 L125.40,60.42 L124.90,60.47 L124.40,60.52 L123.90,60.57 L123.40,60.62 L122.90,60.67 L122.40,60.72 L121.90,60.78 L121.40,60.85 L120.90,60.92 L120.40,60.99 L119.90,61.06 L119.40,61.13 L118.90,61.20 L118.40,61.27 L117.90,61.35 L117.40,61.42 L116.90,61.49 L116.40,61.57 L115.90,61.64 L115.40,61.72 L114.90,61.79 L114.40,61.87 L113.90,61.94 L113.40,62.02 L112.90,62.10 L112.40,62.17 L111.90,62.25 L111.40,62.33 L110.90,62.40 L110.40,62.48 L109.90,62.56 L109.40,62.63 L108.90,62.71 L108.40,62.79 L107.90,62.86 L107.40,62.94 L106.90,63.01 L106.40,63.09 L105.90,63.16 L105.40,63.24 L104.90,63.31 L104.40,63.38 L103.90,63.46 L103.40,63.53 L102.90,63.60 L102.40,63.66 L101.90,63.73 L101.40,63.80 L100.90,63.86 L100.40,63.92 L99.90,63.98 L99.40,64.04 L98.90,64.09 L98.40,64.15 L97.90,64.20 L97.40,64.24 L96.90,64.28 L96.40,64.32 L95.90,64.35 L95.40,64.36 L94.90,64.36 L94.40,64.35 L93.90,64.34 L93.40,64.31 L92.90,64.27 L92.40,64.23 L91.90,64.18 L91.40,64.12 L90.90,64.05 L90.40,63.98 L89.90,63.90 L89.40,63.81 L88.90,63.72 L88.40,63.62 L87.90,63.52 L87.40,63.41 L86.90,63.31 L86.40,63.19 L85.90,63.08 L85.40,62.96 L84.90,62.83 L84.40,62.70 L83.90,62.57 L83.40,62.44 L82.90,62.29 L82.40,62.14 L81.90,61.98 L81.40,61.79 L80.90,61.59 L80.40,61.39 L79.90,61.18 L79.40,60.99 L78.90,60.81 L78.40,60.65 L77.90,60.51 L77.40,60.39 L76.90,60.30 L76.40,60.23 L75.90,60.18 L75.40,60.14 L74.90,60.11 L74.40,60.08 L73.90,60.06 L73.40,60.05 L72.90,60.03 L72.40,60.02 L71.90,60.01 L71.40,60.00 L70.90,59.99 L70.40,59.98 L69.90,59.97 L69.40,59.96 L68.90,59.95 L68.40,59.94 L67.90,59.93 L67.40,59.92 L66.90,59.91 L66.40,59.90 L65.90,59.89 L65.40,59.88 L64.90,59.87 L64.40,59.86 L63.90,59.85 L63.40,59.84 L62.90,59.83 L62.40,59.82 L61.90,59.81 L61.40,59.80 L60.90,59.79 L60.40,59.78 L59.90,59.77 L59.40,59.76 L58.90,59.75 L58.40,59.74 L57.90,59.73 L57.40,59.72 L56.90,59.71 L56.40,59.70 L55.90,59.69 L55.40,59.68 L54.90,59.67 L54.40,59.66 L53.90,59.65 L53.40,59.64 L52.90,59.63 L52.40,59.62 L51.90,59.61 L51.40,59.60 L50.90,59.60 L50.40,59.59 L49.90,59.58 L49.40,59.57 L48.90,59.56 L48.40,59.55 L47.90,59.54 L47.40,59.53 L46.90,59.52 L46.40,59.51 L45.80,59.60"/>
<path d="M151.90,24.96 L151.90,24.96 L151.40,26.31 L150.90,28.23 L150.40,31.99 L149.90,37.55 L149.40,43.65 L148.90,47.76 L148.40,50.15 L147.90,51.57 L147.40,52.53 L146.90,53.28 L146.40,53.91 L145.90,54.46 L145.40,54.96 L144.90,55.41 L144.40,55.82 L143.90,56.20 L143.40,56.54 L142.90,56.85 L142.40,57.14 L141.90,57.40 L141.40,57.64 L140.90,57.86 L140.40,58.07 L139.90,58.26 L139.40,58.43 L138.90,58.59 L138.40,58.74 L137.90,58.88 L137.40,59.02 L136.90,59.14 L136.40,59.26 L135.90,59.37 L135.40,59.47 L134.90,59.57 L134.40,59.66 L133.90,59.75 L133.40,59.84 L132.90,59.92 L132.40,60.00 L131.90,60.08 L131.40,60.15 L130.90,60.23 L130.40,60.30 L129.90,60.37 L129.40,60.44 L128.90,60.51 L128.40,60.58 L127.90,60.65 L127.40,60.71 L126.90,60.78 L126.40,60.85 L125.90,60.92 L125.40,60.98 L124.90,61.05 L124.40,61.12 L123.90,61.18 L123.40,61.25 L122.90,61.32 L122.40,61.39 L121.90,61.46 L121.40,61.55 L120.90,61.64 L120.40,61.73 L119.90,61.82 L119.40,61.91 L118.90,62.00 L118.40,62.09 L117.90,62.18 L117.40,62.28 L116.90,62.37 L116.40,62.46 L115.90,62.56 L115.40,62.65 L114.90,62.75 L114.40,62.84 L113.90,62.94 L113.40,63.03 L112.90,63.13 L112.40,63.23 L111.90,63.32 L111.40,63.42 L110.90,63.52 L110.40,63.61 L109.90,63.71 L109.40,63.81 L108.90,63.90 L108.40,64.00 L107.90,64.09 L107.40,64.19 L106.90,64.28 L106.40,64.38 L105.90,64.47 L105.40,64.57 L104.90,64.66 L104.40,64.75 L103.90,64.84 L103.40,64.93 L102.90,65.01 L102.40,65.10 L101.90,65.18 L101.40,65.26 L100.90,65.34 L100.40,65.42 L99.90,65.49 L99.40,65.56 L98.90,65.63 L98.40,65.69 L97.90,65.75 L97.40,65.81 L96.90,65.86 L96.40,65.90 L95.90,65.93 L95.40,65.94 L94.90,65.93 L94.40,65.92 L93.90,65.89 L93.40,65.85 L92.90,65.80 L92.40,65.73 L91.90,65.66 L91.40,65.57 L90.90,65.47 L90.40,65.37 L89.90,65.25 L89.40,65.13 L88.90,65.00 L88.40,64.87 L87.90,64.72 L87.40,64.57 L86.90,64.42 L86.40,64.26 L85.90,64.10 L85.40,63.93 L84.90,63.76 L84.40,63.58 L83.90,63.40 L83.40,63.21 L82.90,63.01 L82.40,62.81 L81.90,62.58 L81.40,62.33 L80.90,62.07 L80.40,61.80 L79.90,61.53 L79.40,61.27 L78.90,61.03 L78.40,60.82 L77.90,60.64 L77.40,60.49 L76.90,60.37 L76.40,60.28 L75.90,60.21 L75.40,60.16 L74.90,60.12 L74.40,60.09 L73.90,60.07 L73.40,60.05 L72.90,60.03 L72.40,60.02 L71.90,60.01 L71.40,60.00 L70.90,59.99 L70.40,59.98 L69.90,59.97 L69.40,59.96 L68.90,59.95 L68.40,59.94 L67.90,59.93 L67.40,59.92 L66.90,59.91 L66.40,59.90 L65.90,59.89 L65.40,59.88 L64.90,59.87 L64.40,59.86 L63.90,59.85 L63.40,59.84 L62.90,59.83 L62.40,59.82 L61.90,59.81 L61.40,59.80 L60.90,59.79 L60.40,59.78 L59.90,59.77 L59.40,59.76 L58.90,59.75 L58.40,59.74 L57.90,59.73 L57.40,59.72 L56.90,59.71 L56.40,59.70 L55.90,59.69 L55.40,59.68 L54.90,59.67 L54.40,59.66 L53.90,59.65 L53.40,59.64 L52.90,59.63 L52.40,59.62 L51.90,59.61 L51.40,59.60 L50.90,59.60 L50.40,59.59 L49.90,59.58 L49.40,59.57 L48.90,59.56 L48.40,59.55 L47.90,59.54 L47.40,59.53 L46.90,59.52 L46.40,59.51 L45.80,59.60"/>
<path d="M151.90,24.68 L151.90,24.68 L151.40,25.72 L150.90,27.03 L150.40,29.66 L149.90,33.90 L149.40,39.49 L148.90,44.61 L148.40,48.02 L147.90,50.10 L147.40,51.42 L146.90,52.35 L146.40,53.09 L145.90,53.72 L145.40,54.27 L144.90,54.77 L144.40,55.23 L143.90,55.64 L143.40,56.03 L142.90,56.39 L142.40,56.72 L141.90,57.02 L141.40,57.30 L140.90,57.57 L140.40,57.81 L139.90,58.04 L139.40,58.25 L138.90,58.45 L138.40,58.63 L137.90,58.81 L137.40,58.97 L136.90,59.13 L136.40,59.28 L135.90,59.42 L135.40,59.55 L134.90,59.67 L134.40,59.80 L133.90,59.91 L133.40,60.02 L132.90,60.13 L132.40,60.24 L131.90,60.34 L131.40,60.44 L130.90,60.54 L130.40,60.63 L129.90,60.72 L129.40,60.81 L128.90,60.91 L128.40,60.99 L127.90,61.08 L127.40,61.17 L126.90,61.26 L126.40,61.35 L125.90,61.43 L125.40,61.52 L124.90,61.61 L124.40,61.69 L123.90,61.78 L123.40,61.87 L122.90,61.96 L122.40,62.04 L121.90,62.14 L121.40,62.24 L120.90,62.35 L120.40,62.46 L119.90,62.57 L119.40,62.68 L118.90,62.79 L118.40,62.90 L117.90,63.01 L117.40,63.12 L116.90,63.24 L116.40,63.35 L115.90,63.46 L115.40,63.58 L114.90,63.69 L114.40,63.81 L113.90,63.92 L113.40,64.04 L112.90,64.16 L112.40,64.27 L111.90,64.39 L111.40,64.51 L110.90,64.62 L110.40,64.74 L109.90,64.86 L109.40,64.98 L108.90,65.09 L108.40,65.21 L107.90,65.32 L107.40,65.44 L106.90,65.55 L106.40,65.67 L105.90,65.78 L105.40,65.89 L104.90,66.00 L104.40,66.11 L103.90,66.22 L103.40,66.32 L102.90,66.43 L102.40,66.53 L101.90,66.63 L101.40,66.73 L100.90,66.82 L100.40,66.91 L99.90,67.00 L99.40,67.09 L98.90,67.17 L98.40,67.24 L97.90,67.31 L97.40,67.38 L96.90,67.43 L96.40,67.48 L95.90,67.51 L95.40,67.52 L94.90,67.51 L94.40,67.48 L93.90,67.44 L93.40,67.39 L92.90,67.32 L92.40,67.23 L91.90,67.13 L91.40,67.02 L90.90,66.89 L90.40,66.76 L89.90,66.61 L89.40,66.45 L88.90,66.28 L88.40,66.11 L87.90,65.92 L87.40,65.73 L86.90,65.54 L86.40,65.33 L85.90,65.13 L85.40,64.91 L84.90,64.69 L84.40,64.47 L83.90,64.23 L83.40,63.99 L82.90,63.74 L82.40,63.47 L81.90,63.19 L81.40,62.87 L80.90,62.54 L80.40,62.21 L79.90,61.88 L79.40,61.56 L78.90,61.26 L78.40,61.00 L77.90,60.77 L77.40,60.59 L76.90,60.44 L76.40,60.33 L75.90,60.25 L75.40,60.18 L74.90,60.14 L74.40,60.10 L73.90,60.08 L73.40,60.05 L72.90,60.04 L72.40,60.02 L71.90,60.01 L71.40,60.00 L70.90,59.99 L70.40,59.98 L69.90,59.97 L69.40,59.96 L68.90,59.95 L68.40,59.94 L67.90,59.93 L67.40,59.92 L66.90,59.91 L66.40,59.90 L65.90,59.89 L65.40,59.88 L64.90,59.87 L64.40,59.86 L63.90,59.85 L63.40,59.84 L62.90,59.83 L62.40,59.82 L61.90,59.81 L61.40,59.80 L60.90,59.79 L60.40,59.78 L59.90,59.77 L59.40,59.76 L58.90,59.75 L58.40,59.74 L57.90,59.73 L57.40,59.72 L56.90,59.71 L56.40,59.70 L55.90,59.69 L55.40,59.68 L54.90,59.67 L54.40,59.66 L53.90,59.65 L53.40,59.64 L52.90,59.63 L52.40,59.62 L51.90,59.61 L51.40,59.60 L50.90,59.60 L50.40,59.59 L49.90,59.58 L49.40,59.57 L48.90,59.56 L48.40,59.55 L47.90,59.54 L47.40,59.53 L46.90,59.52 L46.40,59.51 L45.80,59.60"/>
<path d="M151.90,24.40 L151.90,24.40 L151.40,25.23 L150.90,26.18 L150.40,28.04 L149.90,31.22 L149.40,35.59 L148.90,40.97 L148.40,45.29 L147.90,48.19 L147.40,50.05 L146.90,51.28 L146.40,52.19 L145.90,52.92 L145.40,53.54 L144.90,54.09 L144.40,54.60 L143.90,55.06 L143.40,55.49 L142.90,55.88 L142.40,56.25 L141.90,56.60 L141.40,56.92 L140.90,57.22 L140.40,57.50 L139.90,57.77 L139.40,58.02 L138.90,58.25 L138.40,58.47 L137.90,58.68 L137.40,58.88 L136.90,59.07 L136.40,59.24 L135.90,59.41 L135.40,59.58 L134.90,59.73 L134.40,59.88 L133.90,60.03 L133.40,60.16 L132.90,60.30 L132.40,60.43 L131.90,60.56 L131.40,60.68 L130.90,60.80 L130.40,60.92 L129.90,61.04 L129.40,61.15 L128.90,61.27 L128.40,61.38 L127.90,61.49 L127.40,61.60 L126.90,61.71 L126.40,61.81 L125.90,61.92 L125.40,62.03 L124.90,62.14 L124.40,62.25 L123.90,62.35 L123.40,62.46 L122.90,62.57 L122.40,62.68 L121.90,62.79 L121.40,62.92 L120.90,63.05 L120.40,63.18 L119.90,63.31 L119.40,63.44 L118.90,63.57 L118.40,63.70 L117.90,63.83 L117.40,63.96 L116.90,64.10 L116.40,64.23 L115.90,64.36 L115.40,64.50 L114.90,64.63 L114.40,64.77 L113.90,64.91 L113.40,65.04 L112.90,65.18 L112.40,65.32 L111.90,65.45 L111.40,65.59 L110.90,65.73 L110.40,65.87 L109.90,66.00 L109.40,66.14 L108.90,66.28 L108.40,66.41 L107.90,66.55 L107.40,66.68 L106.90,66.82 L106.40,66.95 L105.90,67.08 L105.40,67.21 L104.90,67.34 L104.40,67.47 L103.90,67.60 L103.40,67.72 L102.90,67.84 L102.40,67.96 L101.90,68.08 L101.40,68.19 L100.90,68.30 L100.40,68.41 L99.90,68.51 L99.40,68.61 L98.90,68.70 L98.40,68.79 L97.90,68.87 L97.40,68.94 L96.90,69.01 L96.40,69.06 L95.90,69.09 L95.40,69.10 L94.90,69.08 L94.40,69.05 L93.90,69.00 L93.40,68.93 L92.90,68.84 L92.40,68.73 L91.90,68.61 L91.40,68.47 L90.90,68.31 L90.40,68.14 L89.90,67.96 L89.40,67.77 L88.90,67.56 L88.40,67.35 L87.90,67.13 L87.40,66.89 L86.90,66.65 L86.40,66.41 L85.90,66.15 L85.40,65.89 L84.90,65.62 L84.40,65.35 L83.90,65.06 L83.40,64.76 L82.90,64.46 L82.40,64.14 L81.90,63.79 L81.40,63.41 L80.90,63.02 L80.40,62.62 L79.90,62.23 L79.40,61.84 L78.90,61.49 L78.40,61.17 L77.90,60.90 L77.40,60.68 L76.90,60.51 L76.40,60.38 L75.90,60.28 L75.40,60.21 L74.90,60.15 L74.40,60.11 L73.90,60.08 L73.40,60.06 L72.90,60.04 L72.40,60.02 L71.90,60.01 L71.40,60.00 L70.90,59.99 L70.40,59.98 L69.90,59.97 L69.40,59.96 L68.90,59.95 L68.40,59.94 L67.90,59.93 L67.40,59.92 L66.90,59.91 L66.40,59.90 L65.90,59.89 L65.40,59.88 L64.90,59.87 L64.40,59.86 L63.90,59.85 L63.40,59.84 L62.90,59.83 L62.40,59.82 L61.90,59.81 L61.40,59.80 L60.90,59.79 L60.40,59.78 L59.90,59.77 L59.40,59.76 L58.90,59.75 L58.40,59.74 L57.90,59.73 L57.40,59.72 L56.90,59.71 L56.40,59.70 L55.90,59.69 L55.40,59.68 L54.90,59.67 L54.40,59.66 L53.90,59.65 L53.40,59.64 L52.90,59.63 L52.40,59.62 L51.90,59.61 L51.40,59.60 L50.90,59.60 L50.40,59.59 L49.90,59.58 L49.40,59.57 L48.90,59.56 L48.40,59.55 L47.90,59.54 L47.40,59.53 L46.90,59.52 L46.40,59.51 L45.80,59.60"/>
<path d="M151.90,24.12 L151.90,24.12 L151.40,24.81 L150.90,25.52 L150.40,26.87 L149.90,29.23 L149.40,32.76 L148.90,37.27 L148.40,42.09 L147.90,45.78 L147.40,48.31 L146.90,49.98 L146.40,51.16 L145.90,52.04 L145.40,52.76 L144.90,53.38 L144.40,53.93 L143.90,54.44 L143.40,54.91 L142.90,55.34 L142.40,55.75 L141.90,56.14 L141.40,56.49 L140.90,56.83 L140.40,57.15 L139.90,57.45 L139.40,57.74 L138.90,58.00 L138.40,58.26 L137.90,58.50 L137.40,58.73 L136.90,58.95 L136.40,59.16 L135.90,59.36 L135.40,59.56 L134.90,59.74 L134.40,59.92 L133.90,60.09 L133.40,60.26 L132.90,60.42 L132.40,60.58 L131.90,60.73 L131.40,60.88 L130.90,61.03 L130.40,61.17 L129.90,61.31 L129.40,61.45 L128.90,61.59 L128.40,61.72 L127.90,61.86 L127.40,61.99 L126.90,62.12 L126.40,62.25 L125.90,62.38 L125.40,62.51 L124.90,62.64 L124.40,62.77 L123.90,62.90 L123.40,63.03 L122.90,63.16 L122.40,63.29 L121.90,63.42 L121.40,63.57 L120.90,63.72 L120.40,63.87 L119.90,64.02 L119.40,64.17 L118.90,64.33 L118.40,64.48 L117.90,64.63 L117.40,64.78 L116.90,64.94 L116.40,65.09 L115.90,65.25 L115.40,65.41 L114.90,65.56 L114.40,65.72 L113.90,65.88 L113.40,66.03 L112.90,66.19 L112.40,66.35 L111.90,66.51 L111.40,66.67 L110.90,66.83 L110.40,66.98 L109.90,67.14 L109.40,67.30 L108.90,67.46 L108.40,67.61 L107.90,67.77 L107.40,67.93 L106.90,68.08 L106.40,68.23 L105.90,68.38 L105.40,68.53 L104.90,68.68 L104.40,68.83 L103.90,68.97 L103.40,69.12 L102.90,69.25 L102.40,69.39 L101.90,69.52 L101.40,69.65 L100.90,69.78 L100.40,69.90 L99.90,70.02 L99.40,70.13 L98.90,70.23 L98.40,70.33 L97.90,70.42 L97.40,70.51 L96.90,70.58 L96.40,70.64 L95.90,70.67 L95.40,70.68 L94.90,70.66 L94.40,70.61 L93.90,70.55 L93.40,70.46 L92.90,70.36 L92.40,70.23 L91.90,70.08 L91.40,69.92 L90.90,69.73 L90.40,69.53 L89.90,69.32 L89.40,69.09 L88.90,68.85 L88.40,68.59 L87.90,68.33 L87.40,68.05 L86.90,67.77 L86.40,67.48 L85.90,67.18 L85.40,66.87 L84.90,66.55 L84.40,66.22 L83.90,65.89 L83.40,65.54 L82.90,65.18 L82.40,64.80 L81.90,64.40 L81.40,63.96 L80.90,63.50 L80.40,63.04 L79.90,62.57 L79.40,62.13 L78.90,61.71 L78.40,61.35 L77.90,61.03 L77.40,60.78 L76.90,60.58 L76.40,60.42 L75.90,60.31 L75.40,60.23 L74.90,60.17 L74.40,60.12 L73.90,60.09 L73.40,60.06 L72.90,60.04 L72.40,60.03 L71.90,60.01 L71.40,60.00 L70.90,59.99 L70.40,59.98 L69.90,59.97 L69.40,59.96 L68.90,59.95 L68.40,59.94 L67.90,59.93 L67.40,59.92 L66.90,59.91 L66.40,59.90 L65.90,59.89 L65.40,59.88 L64.90,59.87 L64.40,59.86 L63.90,59.85 L63.40,59.84 L62.90,59.83 L62.40,59.82 L61.90,59.81 L61.40,59.80 L60.90,59.79 L60.40,59.78 L59.90,59.77 L59.40,59.76 L58.90,59.75 L58.40,59.74 L57.90,59.73 L57.40,59.72 L56.90,59.71 L56.40,59.70 L55.90,59.69 L55.40,59.68 L54.90,59.67 L54.40,59.66 L53.90,59.65 L53.40,59.64 L52.90,59.63 L52.40,59.62 L51.90,59.61 L51.40,59.60 L50.90,59.60 L50.40,59.59 L49.90,59.58 L49.40,59.57 L48.90,59.56 L48.40,59.55 L47.90,59.54 L47.40,59.53 L46.90,59.52 L46.40,59.51 L45.80,59.60"/>
<path d="M151.90,23.84 L151.90,23.84 L151.40,24.43 L150.90,24.98 L150.40,25.99 L149.90,27.76 L149.40,30.51 L148.90,34.16 L148.40,38.71 L147.90,42.95 L147.40,46.15 L146.90,48.38 L146.40,49.92 L145.90,51.03 L145.40,51.90 L144.90,52.61 L144.40,53.23 L143.90,53.79 L143.40,54.30 L142.90,54.77 L142.40,55.22 L141.90,55.64 L141.40,56.03 L140.90,56.41 L140.40,56.76 L139.90,57.09 L139.40,57.41 L138.90,57.71 L138.40,58.00 L137.90,58.28 L137.40,58.54 L136.90,58.79 L136.40,59.03 L135.90,59.26 L135.40,59.49 L134.90,59.70 L134.40,59.91 L133.90,60.11 L133.40,60.31 L132.90,60.50 L132.40,60.68 L131.90,60.86 L131.40,61.04 L130.90,61.21 L130.40,61.38 L129.90,61.55 L129.40,61.71 L128.90,61.87 L128.40,62.03 L127.90,62.19 L127.40,62.35 L126.90,62.50 L126.40,62.66 L125.90,62.81 L125.40,62.96 L124.90,63.12 L124.40,63.27 L123.90,63.42 L123.40,63.57 L122.90,63.72 L122.40,63.88 L121.90,64.03 L121.40,64.20 L120.90,64.37 L120.40,64.55 L119.90,64.72 L119.40,64.89 L118.90,65.07 L118.40,65.24 L117.90,65.42 L117.40,65.59 L116.90,65.77 L116.40,65.94 L115.90,66.12 L115.40,66.30 L114.90,66.48 L114.40,66.65 L113.90,66.83 L113.40,67.01 L112.90,67.19 L112.40,67.37 L111.90,67.55 L111.40,67.73 L110.90,67.91 L110.40,68.09 L109.90,68.27 L109.40,68.45 L108.90,68.63 L108.40,68.81 L107.90,68.98 L107.40,69.16 L106.90,69.33 L106.40,69.51 L105.90,69.68 L105.40,69.85 L104.90,70.02 L104.40,70.18 L103.90,70.34 L103.40,70.50 L102.90,70.66 L102.40,70.82 L101.90,70.97 L101.40,71.11 L100.90,71.25 L100.40,71.39 L99.90,71.52 L99.40,71.64 L98.90,71.76 L98.40,71.87 L97.90,71.98 L97.40,72.07 L96.90,72.15 L96.40,72.21 L95.90,72.25 L95.40,72.25 L94.90,72.23 L94.40,72.18 L93.90,72.10 L93.40,72.00 L92.90,71.87 L92.40,71.73 L91.90,71.55 L91.40,71.36 L90.90,71.15 L90.40,70.92 L89.90,70.67 L89.40,70.41 L88.90,70.13 L88.40,69.83 L87.90,69.53 L87.40,69.21 L86.90,68.88 L86.40,68.55 L85.90,68.20 L85.40,67.84 L84.90,67.48 L84.40,67.10 L83.90,66.72 L83.40,66.32 L82.90,65.90 L82.40,65.46 L81.90,65.00 L81.40,64.50 L80.90,63.98 L80.40,63.45 L79.90,62.92 L79.40,62.41 L78.90,61.94 L78.40,61.52 L77.90,61.16 L77.40,60.87 L76.90,60.65 L76.40,60.47 L75.90,60.34 L75.40,60.25 L74.90,60.18 L74.40,60.13 L73.90,60.10 L73.40,60.07 L72.90,60.05 L72.40,60.03 L71.90,60.01 L71.40,60.00 L70.90,59.99 L70.40,59.98 L69.90,59.97 L69.40,59.96 L68.90,59.95 L68.40,59.94 L67.90,59.93 L67.40,59.92 L66.90,59.91 L66.40,59.90 L65.90,59.89 L65.40,59.88 L64.90,59.87 L64.40,59.86 L63.90,59.85 L63.40,59.84 L62.90,59.83 L62.40,59.82 L61.90,59.81 L61.40,59.80 L60.90,59.79 L60.40,59.78 L59.90,59.77 L59.40,59.76 L58.90,59.75 L58.40,59.74 L57.90,59.73 L57.40,59.72 L56.90,59.71 L56.40,59.70 L55.90,59.69 L55.40,59.68 L54.90,59.67 L54.40,59.66 L53.90,59.65 L53.40,59.64 L52.90,59.63 L52.40,59.62 L51.90,59.61 L51.40,59.60 L50.90,59.60 L50.40,59.59 L49.90,59.58 L49.40,59.57 L48.90,59.56 L48.40,59.55 L47.90,59.54 L47.40,59.53 L46.90,59.52 L46.40,59.51 L45.80,59.60"/>
<path d="M151.90,23.56 L151.90,23.56 L151.40,24.07 L150.90,24.51 L150.40,25.29 L149.90,26.64 L149.40,28.77 L148.90,31.78 L148.40,35.44 L147.90,39.87 L147.40,43.60 L146.90,46.41 L146.40,48.42 L145.90,49.85 L145.40,50.92 L144.90,51.77 L144.40,52.47 L143.90,53.10 L143.40,53.66 L142.90,54.17 L142.40,54.66 L141.90,55.11 L141.40,55.54 L140.90,55.95 L140.40,56.33 L139.90,56.70 L139.40,57.05 L138.90,57.38 L138.40,57.70 L137.90,58.01 L137.40,58.31 L136.90,58.59 L136.40,58.86 L135.90,59.12 L135.40,59.38 L134.90,59.62 L134.40,59.86 L133.90,60.09 L133.40,60.31 L132.90,60.53 L132.40,60.74 L131.90,60.95 L131.40,61.15 L130.90,61.35 L130.40,61.55 L129.90,61.74 L129.40,61.93 L128.90,62.12 L128.40,62.30 L127.90,62.49 L127.40,62.67 L126.90,62.85 L126.40,63.03 L125.90,63.20 L125.40,63.38 L124.90,63.56 L124.40,63.73 L123.90,63.91 L123.40,64.08 L122.90,64.26 L122.40,64.43 L121.90,64.61 L121.40,64.81 L120.90,65.00 L120.40,65.20 L119.90,65.39 L119.40,65.59 L118.90,65.78 L118.40,65.98 L117.90,66.18 L117.40,66.38 L116.90,66.57 L116.40,66.77 L115.90,66.97 L115.40,67.17 L114.90,67.37 L114.40,67.57 L113.90,67.78 L113.40,67.98 L112.90,68.18 L112.40,68.38 L111.90,68.58 L111.40,68.79 L110.90,68.99 L110.40,69.19 L109.90,69.39 L109.40,69.59 L108.90,69.79 L108.40,69.99 L107.90,70.19 L107.40,70.38 L106.90,70.58 L106.40,70.77 L105.90,70.96 L105.40,71.15 L104.90,71.34 L104.40,71.53 L103.90,71.71 L103.40,71.89 L102.90,72.06 L102.40,72.23 L101.90,72.40 L101.40,72.56 L100.90,72.72 L100.40,72.87 L99.90,73.02 L99.40,73.16 L98.90,73.29 L98.40,73.41 L97.90,73.52 L97.40,73.63 L96.90,73.72 L96.40,73.79 L95.90,73.83 L95.40,73.83 L94.90,73.80 L94.40,73.74 L93.90,73.65 L93.40,73.53 L92.90,73.39 L92.40,73.22 L91.90,73.03 L91.40,72.81 L90.90,72.57 L90.40,72.30 L89.90,72.02 L89.40,71.72 L88.90,71.40 L88.40,71.07 L87.90,70.73 L87.40,70.37 L86.90,70.00 L86.40,69.61 L85.90,69.22 L85.40,68.82 L84.90,68.41 L84.40,67.98 L83.90,67.54 L83.40,67.09 L82.90,66.62 L82.40,66.13 L81.90,65.61 L81.40,65.04 L80.90,64.46 L80.40,63.86 L79.90,63.27 L79.40,62.70 L78.90,62.17 L78.40,61.69 L77.90,61.29 L77.40,60.97 L76.90,60.71 L76.40,60.52 L75.90,60.38 L75.40,60.27 L74.90,60.20 L74.40,60.14 L73.90,60.10 L73.40,60.07 L72.90,60.05 L72.40,60.03 L71.90,60.01 L71.40,60.00 L70.90,59.99 L70.40,59.98 L69.90,59.97 L69.40,59.96 L68.90,59.95 L68.40,59.94 L67.90,59.93 L67.40,59.92 L66.90,59.91 L66.40,59.90 L65.90,59.89 L65.40,59.88 L64.90,59.87 L64.40,59.86 L63.90,59.85 L63.40,59.84 L62.90,59.83 L62.40,59.82 L61.90,59.81 L61.40,59.80 L60.90,59.79 L60.40,59.78 L59.90,59.77 L59.40,59.76 L58.90,59.75 L58.40,59.74 L57.90,59.73 L57.40,59.72 L56.90,59.71 L56.40,59.70 L55.90,59.69 L55.40,59.68 L54.90,59.67 L54.40,59.66 L53.90,59.65 L53.40,59.64 L52.90,59.63 L52.40,59.62 L51.90,59.61 L51.40,59.60 L50.90,59.60 L50.40,59.59 L49.90,59.58 L49.40,59.57 L48.90,59.56 L48.40,59.55 L47.90,59.54 L47.40,59.53 L46.90,59.52 L46.40,59.51 L45.80,59.60"/>
<path d="M151.90,23.28 L151.90,23.28 L151.40,23.74 L150.90,24.09 L150.40,24.71 L149.90,25.75 L149.40,27.41 L148.90,29.84 L148.40,32.96 L147.90,36.79 L147.40,40.80 L146.90,44.11 L146.40,46.61 L145.90,48.44 L145.40,49.78 L144.90,50.81 L144.40,51.64 L143.90,52.35 L143.40,52.97 L142.90,53.54 L142.40,54.06 L141.90,54.55 L141.40,55.01 L140.90,55.45 L140.40,55.87 L139.90,56.27 L139.40,56.65 L138.90,57.02 L138.40,57.37 L137.90,57.71 L137.40,58.03 L136.90,58.35 L136.40,58.65 L135.90,58.94 L135.40,59.22 L134.90,59.50 L134.40,59.76 L133.90,60.02 L133.40,60.27 L132.90,60.52 L132.40,60.76 L131.90,61.00 L131.40,61.23 L130.90,61.45 L130.40,61.68 L129.90,61.90 L129.40,62.11 L128.90,62.32 L128.40,62.54 L127.90,62.74 L127.40,62.95 L126.90,63.16 L126.40,63.36 L125.90,63.56 L125.40,63.76 L124.90,63.96 L124.40,64.16 L123.90,64.36 L123.40,64.56 L122.90,64.76 L122.40,64.96 L121.90,65.16 L121.40,65.38 L120.90,65.60 L120.40,65.82 L119.90,66.04 L119.40,66.26 L118.90,66.48 L118.40,66.70 L117.90,66.92 L117.40,67.14 L116.90,67.36 L116.40,67.58 L115.90,67.81 L115.40,68.03 L114.90,68.25 L114.40,68.48 L113.90,68.70 L113.40,68.92 L112.90,69.15 L112.40,69.37 L111.90,69.60 L111.40,69.82 L110.90,70.05 L110.40,70.27 L109.90,70.49 L109.40,70.72 L108.90,70.94 L108.40,71.16 L107.90,71.38 L107.40,71.60 L106.90,71.81 L106.40,72.03 L105.90,72.24 L105.40,72.45 L104.90,72.66 L104.40,72.86 L103.90,73.06 L103.40,73.26 L102.90,73.46 L102.40,73.64 L101.90,73.83 L101.40,74.01 L100.90,74.18 L100.40,74.35 L99.90,74.51 L99.40,74.66 L98.90,74.81 L98.40,74.94 L97.90,75.07 L97.40,75.18 L96.90,75.28 L96.40,75.36 L95.90,75.40 L95.40,75.40 L94.90,75.36 L94.40,75.29 L93.90,75.19 L93.40,75.06 L92.90,74.90 L92.40,74.71 L91.90,74.49 L91.40,74.25 L90.90,73.98 L90.40,73.69 L89.90,73.37 L89.40,73.04 L88.90,72.68 L88.40,72.31 L87.90,71.92 L87.40,71.52 L86.90,71.11 L86.40,70.68 L85.90,70.24 L85.40,69.80 L84.90,69.33 L84.40,68.86 L83.90,68.37 L83.40,67.87 L82.90,67.34 L82.40,66.79 L81.90,66.21 L81.40,65.58 L80.90,64.93 L80.40,64.27 L79.90,63.61 L79.40,62.98 L78.90,62.39 L78.40,61.87 L77.90,61.42 L77.40,61.06 L76.90,60.78 L76.40,60.57 L75.90,60.41 L75.40,60.29 L74.90,60.21 L74.40,60.15 L73.90,60.11 L73.40,60.08 L72.90,60.05 L72.40,60.03 L71.90,60.01 L71.40,60.00 L70.90,59.99 L70.40,59.98 L69.90,59.97 L69.40,59.96 L68.90,59.95 L68.40,59.94 L67.90,59.93 L67.40,59.92 L66.90,59.91 L66.40,59.90 L65.90,59.89 L65.40,59.88 L64.90,59.87 L64.40,59.86 L63.90,59.85 L63.40,59.84 L62.90,59.83 L62.40,59.82 L61.90,59.81 L61.40,59.80 L60.90,59.79 L60.40,59.78 L59.90,59.77 L59.40,59.76 L58.90,59.75 L58.40,59.74 L57.90,59.73 L57.40,59.72 L56.90,59.71 L56.40,59.70 L55.90,59.69 L55.40,59.68 L54.90,59.67 L54.40,59.66 L53.90,59.65 L53.40,59.64 L52.90,59.63 L52.40,59.62 L51.90,59.61 L51.40,59.60 L50.90,59.60 L50.40,59.59 L49.90,59.58 L49.40,59.57 L48.90,59.56 L48.40,59.55 L47.90,59.54 L47.40,59.53 L46.90,59.52 L46.40,59.51 L45.80,59.60"/>
<path d="M151.90,23.01 L151.90,23.01 L151.40,23.41 L150.90,23.71 L150.40,24.21 L149.90,25.03 L149.40,26.34 L148.90,28.28 L148.40,30.90 L147.90,34.02 L147.40,37.92 L146.90,41.56 L146.40,44.51 L145.90,46.76 L145.40,48.44 L144.90,49.71 L144.40,50.71 L143.90,51.53 L143.40,52.23 L142.90,52.86 L142.40,53.43 L141.90,53.96 L141.40,54.46 L140.90,54.93 L140.40,55.38 L139.90,55.81 L139.40,56.22 L138.90,56.62 L138.40,57.00 L137.90,57.37 L137.40,57.72 L136.90,58.07 L136.40,58.40 L135.90,58.72 L135.40,59.03 L134.90,59.33 L134.40,59.63 L133.90,59.92 L133.40,60.20 L132.90,60.47 L132.40,60.74 L131.90,61.00 L131.40,61.26 L130.90,61.51 L130.40,61.76 L129.90,62.01 L129.40,62.25 L128.90,62.49 L128.40,62.73 L127.90,62.96 L127.40,63.20 L126.90,63.43 L126.40,63.66 L125.90,63.88 L125.40,64.11 L124.90,64.34 L124.40,64.56 L123.90,64.79 L123.40,65.01 L122.90,65.23 L122.40,65.46 L121.90,65.69 L121.40,65.93 L120.90,66.17 L120.40,66.41 L119.90,66.66 L119.40,66.90 L118.90,67.14 L118.40,67.39 L117.90,67.63 L117.40,67.88 L116.90,68.12 L116.40,68.37 L115.90,68.61 L115.40,68.86 L114.90,69.11 L114.40,69.36 L113.90,69.60 L113.40,69.85 L112.90,70.10 L112.40,70.35 L111.90,70.60 L111.40,70.84 L110.90,71.09 L110.40,71.34 L109.90,71.58 L109.40,71.83 L108.90,72.07 L108.40,72.31 L107.90,72.56 L107.40,72.80 L106.90,73.03 L106.40,73.27 L105.90,73.50 L105.40,73.73 L104.90,73.96 L104.40,74.19 L103.90,74.41 L103.40,74.63 L102.90,74.84 L102.40,75.05 L101.90,75.25 L101.40,75.45 L100.90,75.64 L100.40,75.82 L99.90,76.00 L99.40,76.16 L98.90,76.32 L98.40,76.47 L97.90,76.61 L97.40,76.73 L96.90,76.83 L96.40,76.92 L95.90,76.97 L95.40,76.96 L94.90,76.92 L94.40,76.85 L93.90,76.73 L93.40,76.59 L92.90,76.41 L92.40,76.20 L91.90,75.96 L91.40,75.69 L90.90,75.39 L90.40,75.07 L89.90,74.72 L89.40,74.35 L88.90,73.96 L88.40,73.55 L87.90,73.12 L87.40,72.68 L86.90,72.22 L86.40,71.75 L85.90,71.26 L85.40,70.77 L84.90,70.26 L84.40,69.74 L83.90,69.20 L83.40,68.64 L82.90,68.06 L82.40,67.45 L81.90,66.81 L81.40,66.12 L80.90,65.41 L80.40,64.68 L79.90,63.96 L79.40,63.26 L78.90,62.62 L78.40,62.04 L77.90,61.55 L77.40,61.16 L76.90,60.85 L76.40,60.61 L75.90,60.44 L75.40,60.32 L74.90,60.23 L74.40,60.16 L73.90,60.11 L73.40,60.08 L72.90,60.05 L72.40,60.03 L71.90,60.02 L71.40,60.00 L70.90,59.99 L70.40,59.98 L69.90,59.97 L69.40,59.96 L68.90,59.94 L68.40,59.93 L67.90,59.93 L67.40,59.92 L66.90,59.91 L66.40,59.90 L65.90,59.89 L65.40,59.88 L64.90,59.87 L64.40,59.86 L63.90,59.85 L63.40,59.84 L62.90,59.83 L62.40,59.82 L61.90,59.81 L61.40,59.80 L60.90,59.79 L60.40,59.78 L59.90,59.77 L59.40,59.76 L58.90,59.75 L58.40,59.74 L57.90,59.73 L57.40,59.72 L56.90,59.71 L56.40,59.70 L55.90,59.69 L55.40,59.68 L54.90,59.67 L54.40,59.66 L53.90,59.65 L53.40,59.64 L52.90,59.63 L52.40,59.62 L51.90,59.61 L51.40,59.60 L50.90,59.60 L50.40,59.59 L49.90,59.58 L49.40,59.57 L48.90,59.56 L48.40,59.55 L47.90,59.54 L47.40,59.53 L46.90,59.52 L46.40,59.51 L45.80,59.60"/>
<path d="M151.90,22.73 L151.90,22.73 L151.40,23.10 L150.90,23.34 L150.40,23.76 L149.90,24.42 L149.40,25.46 L148.90,27.02 L148.40,29.18 L147.90,31.91 L147.40,35.12 L146.90,38.87 L146.40,42.16 L145.90,44.82 L145.40,46.87 L144.90,48.43 L144.40,49.64 L143.90,50.62 L143.40,51.43 L142.90,52.13 L142.40,52.76 L141.90,53.33 L141.40,53.87 L140.90,54.38 L140.40,54.86 L139.90,55.32 L139.40,55.76 L138.90,56.19 L138.40,56.60 L137.90,57.00 L137.40,57.38 L136.90,57.75 L136.40,58.11 L135.90,58.46 L135.40,58.80 L134.90,59.13 L134.40,59.46 L133.90,59.77 L133.40,60.08 L132.90,60.38 L132.40,60.68 L131.90,60.97 L131.40,61.25 L130.90,61.53 L130.40,61.81 L129.90,62.08 L129.40,62.35 L128.90,62.62 L128.40,62.88 L127.90,63.14 L127.40,63.40 L126.90,63.66 L126.40,63.91 L125.90,64.17 L125.40,64.42 L124.90,64.67 L124.40,64.92 L123.90,65.17 L123.40,65.42 L122.90,65.67 L122.40,65.92 L121.90,66.17 L121.40,66.44 L120.90,66.71 L120.40,66.97 L119.90,67.24 L119.40,67.51 L118.90,67.78 L118.40,68.05 L117.90,68.32 L117.40,68.59 L116.90,68.86 L116.40,69.13 L115.90,69.40 L115.40,69.67 L114.90,69.94 L114.40,70.21 L113.90,70.48 L113.40,70.76 L112.90,71.03 L112.40,71.30 L111.90,71.57 L111.40,71.84 L110.90,72.11 L110.40,72.38 L109.90,72.65 L109.40,72.92 L108.90,73.19 L108.40,73.45 L107.90,73.72 L107.40,73.98 L106.90,74.24 L106.40,74.50 L105.90,74.75 L105.40,75.01 L104.90,75.25 L104.40,75.50 L103.90,75.74 L103.40,75.98 L102.90,76.21 L102.40,76.44 L101.90,76.66 L101.40,76.87 L100.90,77.08 L100.40,77.28 L99.90,77.47 L99.40,77.65 L98.90,77.83 L98.40,77.99 L97.90,78.13 L97.40,78.27 L96.90,78.38 L96.40,78.47 L95.90,78.52 L95.40,78.52 L94.90,78.47 L94.40,78.39 L93.90,78.27 L93.40,78.11 L92.90,77.91 L92.40,77.68 L91.90,77.42 L91.40,77.12 L90.90,76.80 L90.40,76.44 L89.90,76.06 L89.40,75.65 L88.90,75.23 L88.40,74.78 L87.90,74.31 L87.40,73.83 L86.90,73.33 L86.40,72.81 L85.90,72.28 L85.40,71.74 L84.90,71.18 L84.40,70.61 L83.90,70.02 L83.40,69.41 L82.90,68.77 L82.40,68.11 L81.90,67.41 L81.40,66.66 L80.90,65.88 L80.40,65.09 L79.90,64.30 L79.40,63.54 L78.90,62.84 L78.40,62.21 L77.90,61.68 L77.40,61.25 L76.90,60.91 L76.40,60.66 L75.90,60.47 L75.40,60.34 L74.90,60.24 L74.40,60.17 L73.90,60.12 L73.40,60.08 L72.90,60.05 L72.40,60.03 L71.90,60.02 L71.40,60.00 L70.90,59.99 L70.40,59.98 L69.90,59.96 L69.40,59.95 L68.90,59.94 L68.40,59.93 L67.90,59.92 L67.40,59.91 L66.90,59.90 L66.40,59.90 L65.90,59.89 L65.40,59.88 L64.90,59.87 L64.40,59.86 L63.90,59.85 L63.40,59.84 L62.90,59.83 L62.40,59.82 L61.90,59.81 L61.40,59.80 L60.90,59.79 L60.40,59.78 L59.90,59.77 L59.40,59.76 L58.90,59.75 L58.40,59.74 L57.90,59.73 L57.40,59.72 L56.90,59.71 L56.40,59.70 L55.90,59.69 L55.40,59.68 L54.90,59.67 L54.40,59.66 L53.90,59.65 L53.40,59.64 L52.90,59.63 L52.40,59.62 L51.90,59.61 L51.40,59.60 L50.90,59.59 L50.40,59.59 L49.90,59.58 L49.40,59.57 L48.90,59.56 L48.40,59.55 L47.90,59.54 L47.40,59.53 L46.90,59.52 L46.40,59.51 L45.80,59.60"/>
<path d="M151.90,22.45 L151.90,22.45 L151.40,22.79 L150.90,23.00 L150.40,23.34 L149.90,23.89 L149.40,24.73 L148.90,25.99 L148.40,27.77 L147.90,30.09 L147.40,32.83 L146.90,36.20 L146.40,39.67 L145.90,42.65 L145.40,45.06 L144.90,46.95 L144.40,48.42 L143.90,49.58 L143.40,50.53 L142.90,51.33 L142.40,52.03 L141.90,52.66 L141.40,53.25 L140.90,53.79 L140.40,54.31 L139.90,54.80 L139.40,55.28 L138.90,55.73 L138.40,56.17 L137.90,56.59 L137.40,57.00 L136.90,57.40 L136.40,57.79 L135.90,58.17 L135.40,58.54 L134.90,58.90 L134.40,59.25 L133.90,59.59 L133.40,59.93 L132.90,60.26 L132.40,60.58 L131.90,60.90 L131.40,61.21 L130.90,61.52 L130.40,61.82 L129.90,62.12 L129.40,62.42 L128.90,62.71 L128.40,63.00 L127.90,63.29 L127.40,63.57 L126.90,63.86 L126.40,64.14 L125.90,64.42 L125.40,64.70 L124.90,64.97 L124.40,65.25 L123.90,65.53 L123.40,65.80 L122.90,66.08 L122.40,66.35 L121.90,66.63 L121.40,66.92 L120.90,67.21 L120.40,67.51 L119.90,67.80 L119.40,68.09 L118.90,68.39 L118.40,68.68 L117.90,68.97 L117.40,69.27 L116.90,69.56 L116.40,69.86 L115.90,70.15 L115.40,70.45 L114.90,70.75 L114.40,71.04 L113.90,71.34 L113.40,71.64 L112.90,71.93 L112.40,72.23 L111.90,72.52 L111.40,72.82 L110.90,73.11 L110.40,73.41 L109.90,73.70 L109.40,73.99 L108.90,74.28 L108.40,74.57 L107.90,74.86 L107.40,75.15 L106.90,75.43 L106.40,75.71 L105.90,75.99 L105.40,76.26 L104.90,76.53 L104.40,76.80 L103.90,77.06 L103.40,77.31 L102.90,77.57 L102.40,77.81 L101.90,78.05 L101.40,78.28 L100.90,78.51 L100.40,78.73 L99.90,78.93 L99.40,79.13 L98.90,79.32 L98.40,79.49 L97.90,79.65 L97.40,79.80 L96.90,79.92 L96.40,80.02 L95.90,80.07 L95.40,80.07 L94.90,80.02 L94.40,79.93 L93.90,79.80 L93.40,79.62 L92.90,79.41 L92.40,79.16 L91.90,78.87 L91.40,78.55 L90.90,78.20 L90.40,77.81 L89.90,77.40 L89.40,76.96 L88.90,76.49 L88.40,76.00 L87.90,75.50 L87.40,74.97 L86.90,74.43 L86.40,73.87 L85.90,73.30 L85.40,72.71 L84.90,72.10 L84.40,71.48 L83.90,70.84 L83.40,70.18 L82.90,69.49 L82.40,68.77 L81.90,68.01 L81.40,67.19 L80.90,66.35 L80.40,65.50 L79.90,64.64 L79.40,63.82 L78.90,63.06 L78.40,62.38 L77.90,61.81 L77.40,61.34 L76.90,60.98 L76.40,60.70 L75.90,60.50 L75.40,60.36 L74.90,60.25 L74.40,60.18 L73.90,60.12 L73.40,60.08 L72.90,60.05 L72.40,60.03 L71.90,60.01 L71.40,60.00 L70.90,59.99 L70.40,59.97 L69.90,59.96 L69.40,59.95 L68.90,59.94 L68.40,59.93 L67.90,59.92 L67.40,59.91 L66.90,59.90 L66.40,59.89 L65.90,59.88 L65.40,59.87 L64.90,59.86 L64.40,59.86 L63.90,59.85 L63.40,59.84 L62.90,59.83 L62.40,59.82 L61.90,59.81 L61.40,59.80 L60.90,59.79 L60.40,59.78 L59.90,59.77 L59.40,59.76 L58.90,59.75 L58.40,59.74 L57.90,59.73 L57.40,59.72 L56.90,59.71 L56.40,59.70 L55.90,59.69 L55.40,59.68 L54.90,59.67 L54.40,59.66 L53.90,59.65 L53.40,59.64 L52.90,59.63 L52.40,59.62 L51.90,59.61 L51.40,59.60 L50.90,59.59 L50.40,59.58 L49.90,59.58 L49.40,59.57 L48.90,59.56 L48.40,59.55 L47.90,59.54 L47.40,59.53 L46.90,59.52 L46.40,59.51 L45.80,59.60"/>
</g>
<line x1="125.2" y1="42" x2="125.2" y2="52.5" stroke-width="0.9"/>
</g>
<text x="74.4" y="10.6" font-size="9.2" text-anchor="end" fill="#111" stroke="#111" stroke-width="0.3">0.8</text>
<text x="74.4" y="23.0" font-size="9.2" text-anchor="end" fill="#111" stroke="#111" stroke-width="0.3">0.6</text>
<text x="74.4" y="35.4" font-size="9.2" text-anchor="end" fill="#111" stroke="#111" stroke-width="0.3">0.4</text>
<text x="74.4" y="47.8" font-size="9.2" text-anchor="end" fill="#111" stroke="#111" stroke-width="0.3">0.2</text>
<text x="74.4" y="60.2" font-size="9.2" text-anchor="end" fill="#111" stroke="#111" stroke-width="0.3">0</text>
<text x="74.4" y="72.6" font-size="9.2" text-anchor="end" fill="#111" stroke="#111" stroke-width="0.3">-0.2</text>
<text x="74.4" y="85.0" font-size="9.2" text-anchor="end" fill="#111" stroke="#111" stroke-width="0.3">-0.4</text>
<text x="74.4" y="97.4" font-size="9.2" text-anchor="end" fill="#111" stroke="#111" stroke-width="0.3">-0.6</text>
<text x="34.9" y="73.8" font-size="9.2" text-anchor="middle" fill="#111" stroke="#111" stroke-width="0.3">-0.5</text>
<text x="127.9" y="73.8" font-size="9.2" text-anchor="middle" fill="#111" stroke="#111" stroke-width="0.3">0.5</text>
<text x="174.4" y="73.8" font-size="9.2" text-anchor="middle" fill="#111" stroke="#111" stroke-width="0.3">1</text>
<text x="104.8" y="112.3" font-size="9.3" font-weight="bold" text-anchor="middle" fill="#000" stroke="#000" stroke-width="0.2">Potential (V vs Fc/Fc+)</text>
<text transform="translate(22.7,57.2) rotate(-90)" font-size="8.5" font-weight="bold" text-anchor="middle" fill="#000" stroke="#000" stroke-width="0.25">Current Density (mA/cm^2)</text>
<rect x="34.8" y="7.4" width="139.6" height="86.8" fill="none" stroke="#222" stroke-width="1.1"/>
</svg>
</body></html>
